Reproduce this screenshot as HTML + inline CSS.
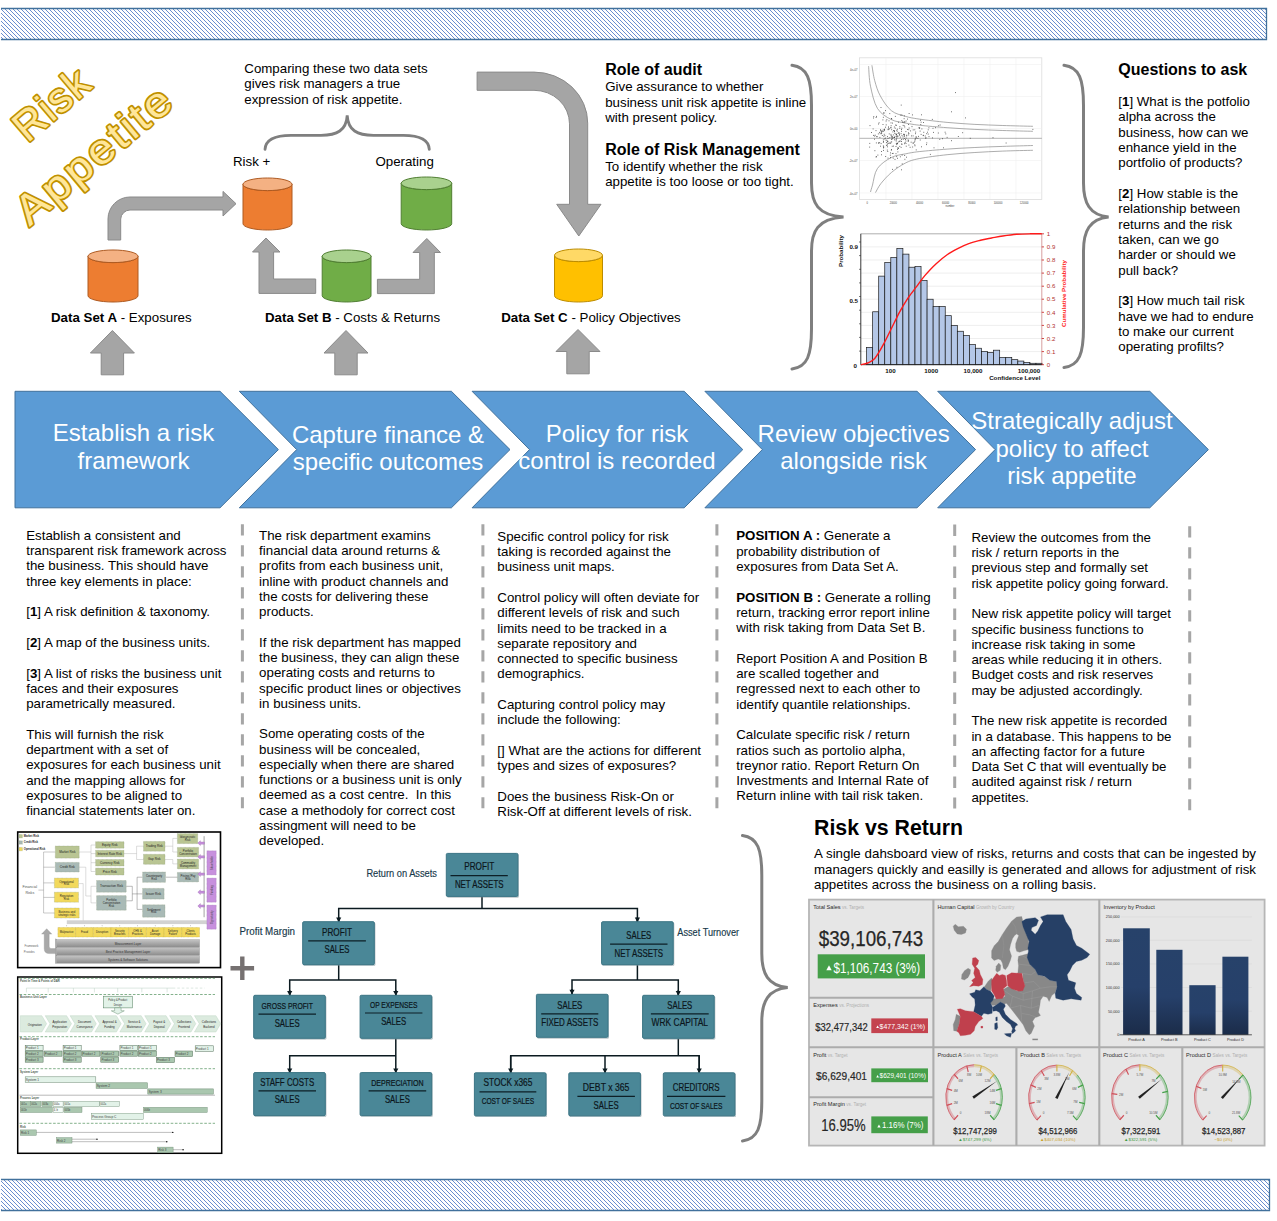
<!DOCTYPE html>
<html lang="en"><head><meta charset="utf-8"><title>Risk Appetite</title>
<style>
html,body{margin:0;padding:0;background:#fff}
body{width:1277px;height:1221px;position:relative;overflow:hidden;font-family:"Liberation Sans",sans-serif;font-size:13.3px;line-height:15.3px;color:#000}
.t{position:absolute;white-space:nowrap}
.c{position:absolute;white-space:nowrap;text-align:center;color:#fff}
svg{position:absolute;left:0;top:0}
svg text{font-family:"Liberation Sans",sans-serif}
b{font-weight:bold}
</style></head><body>
<svg width="1277" height="1221" viewBox="0 0 1277 1221">
<defs>
<pattern id="hatch" width="4" height="4" patternUnits="userSpaceOnUse"><path d="M0 0h1v1h-1zM1 1h1v1h-1zM2 2h1v1h-1zM3 3h1v1h-1z" fill="#4472c4" shape-rendering="crispEdges"/></pattern>
</defs>
<rect x="1" y="8.5" width="1265.5" height="31" fill="url(#hatch)" opacity="0.8"/>
<path d="M1 8.5H1266.5V39.5H1" fill="none" stroke="#41719c" stroke-width="1.3"/>
<rect x="1" y="1179.5" width="1268.5" height="31" fill="url(#hatch)" opacity="0.8"/>
<path d="M1 1179.5H1269.5V1210.5H1" fill="none" stroke="#41719c" stroke-width="1.3"/>
<g font-family="Liberation Sans, sans-serif" font-size="42" stroke-linejoin="round" stroke-linecap="round">
<g transform="translate(27.5,143.5) rotate(-40.5) scale(1.0,1)" letter-spacing="1.6"><text x="0" y="0" fill="#ffe699" stroke="#bf9000" stroke-width="3.4" paint-order="stroke">Risk</text></g>
<g transform="translate(29.5,227) rotate(-39.8) scale(1.1,1)" letter-spacing="2.6"><text x="0" y="0" fill="#ffe699" stroke="#bf9000" stroke-width="3.4" paint-order="stroke">Appetite</text></g>
</g>
<path d="M88 256.3V295.7A25.0 6.3 0 0 0 138 295.7V256.3A25.0 6.3 0 0 1 88 256.3Z" fill="#ed7d31" stroke="#ae5a21" stroke-width="1"/><ellipse cx="113.0" cy="256.3" rx="25.0" ry="6.3" fill="#f4b183" stroke="#ae5a21" stroke-width="1"/>
<path d="M243 184.3V223.7A24.5 6.3 0 0 0 292 223.7V184.3A24.5 6.3 0 0 1 243 184.3Z" fill="#ed7d31" stroke="#ae5a21" stroke-width="1"/><ellipse cx="267.5" cy="184.3" rx="24.5" ry="6.3" fill="#f4b183" stroke="#ae5a21" stroke-width="1"/>
<path d="M322.2 256.3V295.7A24.400000000000006 6.3 0 0 0 371 295.7V256.3A24.400000000000006 6.3 0 0 1 322.2 256.3Z" fill="#70ad47" stroke="#507e32" stroke-width="1"/><ellipse cx="346.6" cy="256.3" rx="24.400000000000006" ry="6.3" fill="#a9d18e" stroke="#507e32" stroke-width="1"/>
<path d="M401.2 183.3V223.7A25.25 6.3 0 0 0 451.7 223.7V183.3A25.25 6.3 0 0 1 401.2 183.3Z" fill="#70ad47" stroke="#507e32" stroke-width="1"/><ellipse cx="426.45" cy="183.3" rx="25.25" ry="6.3" fill="#a9d18e" stroke="#507e32" stroke-width="1"/>
<path d="M554.5 255.3V295.7A24.0 6.3 0 0 0 602.5 295.7V255.3A24.0 6.3 0 0 1 554.5 255.3Z" fill="#ffc000" stroke="#bc8c00" stroke-width="1"/><ellipse cx="578.5" cy="255.3" rx="24.0" ry="6.3" fill="#ffd966" stroke="#bc8c00" stroke-width="1"/>
<path d="M112.4 330.5L134.4 353H123.60000000000001V374.8H101.2V353H90.4Z" fill="#a5a5a5" stroke="#8a8a8a" stroke-width="1"/>
<path d="M346 330.5L368 353H357.2V374.8H334.8V353H324Z" fill="#a5a5a5" stroke="#8a8a8a" stroke-width="1"/>
<path d="M578 329.5L600 351.5H589.2V373.8H566.8V351.5H556Z" fill="#a5a5a5" stroke="#8a8a8a" stroke-width="1"/>
<path d="M108 240V219A22 22 0 0 1 130 197H223V191.4L236 203.7L223 216V210H130A9.5 9.5 0 0 0 120.7 219V240Z" fill="#a5a5a5" stroke="#8a8a8a" stroke-width="1"/>
<path d="M315.7 293.4H259V252H252.5L266 238L280 252H273.6V279H315.7Z" fill="#a5a5a5" stroke="#8a8a8a" stroke-width="1"/>
<path d="M377.4 293.6H434.3V252.5H440.5L426.8 238.5L413 252.5H419.7V279.3H377.4Z" fill="#a5a5a5" stroke="#8a8a8a" stroke-width="1"/>
<path d="M477.1 72.1H534A53.7 51 0 0 1 587.7 123.1V204.3H601L578.8 236L556.7 204.3H569.5V123.8A35.5 33.5 0 0 0 534 90.3H477.1Z" fill="#a5a5a5" stroke="#8a8a8a" stroke-width="1"/>
<path d="M265 149.3C265.5 140 273 135.3 291 135.3H321C337 135.3 346.3 130.5 347.2 115.3C348.1 130.5 357.4 135.3 373.4 135.3H403.4C421.4 135.3 428.8 140 429.3 149.3" fill="none" stroke="#7f7f7f" stroke-width="2.8" stroke-linecap="round"/>
<path d="M15 391.3H220L278.4 449.6L220 507.8H15Z" fill="#5b9bd5" stroke="#41719c" stroke-width="1"/>
<path d="M239.3 391.3H451.4L510.0 449.6L451.4 507.8H239.3L296.7 449.6Z" fill="#5b9bd5" stroke="#41719c" stroke-width="1"/>
<path d="M472.1 391.3H684.2L742.8 449.6L684.2 507.8H472.1L529.5 449.6Z" fill="#5b9bd5" stroke="#41719c" stroke-width="1"/>
<path d="M704.9 391.3H917.0L975.6 449.6L917.0 507.8H704.9L762.3 449.6Z" fill="#5b9bd5" stroke="#41719c" stroke-width="1"/>
<path d="M937.7 391.3H1149.8L1208.4 449.6L1149.8 507.8H937.7L995.1 449.6Z" fill="#5b9bd5" stroke="#41719c" stroke-width="1"/>
<path d="M792 65.3C807.5 67.3 811.5 79.3 811.5 105.3V183.1C811.5 203.1 817.5 215.1 843.5 217.1C817.5 219.1 811.5 231.1 811.5 251.1V329C811.5 355 807.5 367 792 369" fill="none" stroke="#7f7f7f" stroke-width="3.0" stroke-linecap="round"/>
<path d="M1064 65.3C1079.5 67.3 1083.5 79.3 1083.5 105.3V183C1083.5 203 1089.5 215 1108.6 217C1089.5 219 1083.5 231 1083.5 251V327.5C1083.5 353.5 1079.5 365.5 1064 367.5" fill="none" stroke="#7f7f7f" stroke-width="3.0" stroke-linecap="round"/>
<path d="M742.5 835.5C757.8 837.5 761.8 849.5 761.8 875.5V953.6C761.8 973.6 767.8 985.6 787.7 987.6C767.8 989.6 761.8 1001.6 761.8 1021.6V1101C761.8 1127 757.8 1139 742.5 1141" fill="none" stroke="#7f7f7f" stroke-width="3.0" stroke-linecap="round"/>
<line x1="242.4" y1="524.2" x2="242.4" y2="808.2" stroke="#a6a6a6" stroke-width="3" stroke-dasharray="11.3 9.7"/>
<line x1="482.9" y1="524.2" x2="482.9" y2="808.2" stroke="#a6a6a6" stroke-width="3" stroke-dasharray="11.3 9.7"/>
<line x1="716.9" y1="524.2" x2="716.9" y2="808.2" stroke="#a6a6a6" stroke-width="3" stroke-dasharray="11.3 9.7"/>
<line x1="954.7" y1="524.6" x2="954.7" y2="808.6" stroke="#a6a6a6" stroke-width="3" stroke-dasharray="11.3 9.7"/>
<line x1="1189.7" y1="526.2" x2="1189.7" y2="810.2" stroke="#a6a6a6" stroke-width="3" stroke-dasharray="11.3 9.7"/>
<g id="scatter"><rect x="859.5" y="57.8" width="182.3" height="141.7" fill="#fff" stroke="#dcdcdc" stroke-width="0.8"/>
<line x1="886" y1="58" x2="886" y2="199" stroke="#f0f0f0" stroke-width="0.6"/>
<line x1="912" y1="58" x2="912" y2="199" stroke="#f0f0f0" stroke-width="0.6"/>
<line x1="938" y1="58" x2="938" y2="199" stroke="#f0f0f0" stroke-width="0.6"/>
<line x1="964" y1="58" x2="964" y2="199" stroke="#f0f0f0" stroke-width="0.6"/>
<line x1="990" y1="58" x2="990" y2="199" stroke="#f0f0f0" stroke-width="0.6"/>
<line x1="1016" y1="58" x2="1016" y2="199" stroke="#f0f0f0" stroke-width="0.6"/>
<line x1="860" y1="64.5" x2="1041.5" y2="64.5" stroke="#f0f0f0" stroke-width="0.6"/>
<line x1="860" y1="96.5" x2="1041.5" y2="96.5" stroke="#f0f0f0" stroke-width="0.6"/>
<line x1="860" y1="128.5" x2="1041.5" y2="128.5" stroke="#f0f0f0" stroke-width="0.6"/>
<line x1="860" y1="160.5" x2="1041.5" y2="160.5" stroke="#f0f0f0" stroke-width="0.6"/>
<line x1="860" y1="193" x2="1041.5" y2="193" stroke="#f0f0f0" stroke-width="0.6"/>
<line x1="859.5" y1="138.3" x2="1041.8" y2="138.3" stroke="#666" stroke-width="0.5"/>
<path d="M871.9 65.3C872.4 67.9 873.3 75.5 874.7 80.6C876.1 85.7 877.5 90.9 880.3 95.9C883.0 101.0 887.2 107.3 891.4 110.7C895.6 114.1 900.7 114.9 905.3 116.3C910.0 117.7 912.3 118.0 919.2 119.1C926.2 120.1 937.8 121.5 947.1 122.4C956.4 123.3 965.6 123.8 974.9 124.4C984.2 124.9 993.1 125.1 1002.8 125.5C1012.4 125.8 1027.8 126.2 1032.9 126.3" fill="none" stroke="#8a8a8a" stroke-width="0.7"/>
<path d="M868.6 66.2C868.9 69.5 869.0 79.1 870.5 86.2C872.0 93.3 874.0 102.9 877.5 108.5C880.9 114.0 886.7 117.2 891.4 119.6C896.0 122.0 900.7 122.0 905.3 123.0C910.0 123.9 912.3 124.4 919.2 125.2C926.2 126.0 937.8 127.0 947.1 127.7C956.4 128.4 965.6 128.9 974.9 129.4C984.2 129.8 993.1 130.2 1002.8 130.5C1012.4 130.8 1027.8 131.2 1032.9 131.3" fill="none" stroke="#8a8a8a" stroke-width="0.7"/>
<path d="M1032.9 145.5C1027.8 145.7 1012.4 146.0 1002.8 146.4C993.1 146.7 984.2 147.0 974.9 147.5C965.6 147.9 956.4 148.4 947.1 149.1C937.8 149.8 926.2 150.9 919.2 151.6C912.3 152.4 910.0 152.9 905.3 153.9C900.7 154.8 896.0 155.1 891.4 157.5C886.7 159.9 880.6 163.8 877.5 168.4C874.3 172.9 873.6 181.1 872.5 185.1C871.3 189.0 870.8 190.9 870.5 192.0" fill="none" stroke="#8a8a8a" stroke-width="0.7"/>
<path d="M1032.9 150.3C1027.8 150.4 1012.4 150.7 1002.8 151.1C993.1 151.5 984.2 151.9 974.9 152.5C965.6 153.1 956.4 153.7 947.1 154.7C937.8 155.7 926.2 157.2 919.2 158.6C912.3 160.0 910.0 160.7 905.3 163.1C900.7 165.4 895.5 169.1 891.4 172.5C887.3 176.0 883.5 180.3 880.8 183.7C878.2 187.0 876.4 191.1 875.5 192.6" fill="none" stroke="#8a8a8a" stroke-width="0.7"/>
<path d="M888.4 143.3h.01M904.4 143.7h.01M904.1 134.8h.01M901.7 144.0h.01M897.3 143.1h.01M905.9 131.6h.01M895.0 136.3h.01M898.0 147.9h.01M897.9 151.9h.01M923.2 135.6h.01M886.2 124.9h.01M880.4 129.8h.01M889.6 128.9h.01M904.8 122.6h.01M897.2 136.1h.01M891.7 129.7h.01M908.2 141.4h.01M870.0 125.6h.01M886.1 121.0h.01M869.8 143.4h.01M902.4 122.0h.01M913.1 135.9h.01M899.4 134.8h.01M894.4 139.8h.01M897.5 143.7h.01M894.7 133.2h.01M897.6 129.2h.01M876.1 157.1h.01M913.2 143.1h.01M894.5 137.5h.01M875.2 135.2h.01M915.0 145.8h.01M906.1 121.0h.01M887.0 140.4h.01M920.2 140.0h.01M925.8 138.3h.01M914.9 141.0h.01M896.7 144.6h.01M887.5 141.7h.01M904.5 136.3h.01M896.0 139.9h.01M958.3 136.5h.01M884.9 135.6h.01M905.5 139.5h.01M903.2 122.2h.01M886.7 142.5h.01M871.5 132.5h.01M895.0 159.4h.01M904.1 118.7h.01M890.9 127.9h.01M908.1 139.9h.01M881.0 107.5h.01M923.5 122.5h.01M915.2 138.9h.01M873.5 118.0h.01M874.5 139.2h.01M906.2 146.2h.01M895.3 116.4h.01M900.3 156.8h.01M901.2 105.1h.01M940.1 125.0h.01M904.7 155.5h.01M885.4 127.2h.01M892.7 138.4h.01M883.0 124.5h.01M869.7 147.1h.01M893.5 146.1h.01M892.3 153.5h.01M886.0 140.1h.01M883.5 147.9h.01M901.5 129.5h.01M877.0 136.7h.01M945.8 133.9h.01M897.6 149.4h.01M881.6 133.0h.01M897.2 131.2h.01M888.0 158.1h.01M873.1 128.9h.01M876.3 142.9h.01M873.5 135.4h.01M878.3 133.9h.01M883.9 112.5h.01M890.5 152.9h.01M903.8 134.7h.01M891.7 141.8h.01M904.8 121.5h.01M906.5 157.2h.01M896.9 167.3h.01M898.0 148.2h.01M887.3 143.9h.01M891.0 134.4h.01M889.3 137.8h.01M945.1 132.2h.01M896.8 135.8h.01M911.1 142.2h.01M899.8 146.4h.01M933.0 128.3h.01M903.1 125.4h.01M916.2 149.9h.01M892.9 131.9h.01M912.7 147.0h.01M883.5 150.4h.01M890.7 143.4h.01M923.3 135.3h.01M887.6 146.8h.01M908.7 134.9h.01M891.4 139.1h.01M884.2 134.3h.01M896.5 134.5h.01M878.9 142.9h.01M880.5 146.2h.01M902.0 135.6h.01M886.9 119.7h.01M939.8 139.4h.01M932.3 119.4h.01M905.1 142.5h.01M898.4 148.3h.01M921.9 128.9h.01M892.4 169.4h.01M891.1 137.3h.01M908.9 133.5h.01M890.9 142.3h.01M893.8 137.6h.01M893.1 153.4h.01M891.4 118.5h.01M899.8 128.3h.01M898.0 136.2h.01M889.2 133.9h.01M904.2 125.8h.01M893.8 130.5h.01M898.5 122.2h.01M921.1 134.4h.01M887.9 141.4h.01M876.0 130.6h.01M920.4 120.3h.01M876.9 136.6h.01M908.9 145.1h.01M899.6 141.3h.01M896.7 156.6h.01M879.9 137.4h.01M883.3 117.3h.01M910.1 147.3h.01M925.2 136.0h.01M882.9 119.9h.01M887.8 151.5h.01M885.6 138.2h.01M901.5 169.8h.01M904.3 138.4h.01M903.9 134.2h.01M901.5 131.3h.01M920.8 124.5h.01M928.9 127.8h.01M892.4 137.0h.01M901.4 139.6h.01M891.8 136.3h.01M894.5 131.5h.01M885.6 110.6h.01M883.3 145.9h.01M882.0 130.6h.01M919.0 127.6h.01M899.5 133.1h.01M883.8 136.3h.01M914.8 129.8h.01M873.8 116.6h.01M908.5 124.5h.01M891.7 118.9h.01M893.3 134.9h.01M885.7 156.5h.01M890.3 155.2h.01M917.9 138.4h.01M965.4 117.9h.01M925.9 137.7h.01M898.7 141.9h.01M881.1 143.6h.01M902.1 155.1h.01M901.1 147.4h.01M896.7 130.2h.01M891.5 149.5h.01M913.2 129.9h.01M894.4 137.3h.01M901.9 128.2h.01M903.0 136.9h.01M901.9 115.0h.01M881.7 131.8h.01M908.8 129.7h.01M892.6 123.1h.01M935.5 127.7h.01M889.4 143.1h.01M932.4 137.9h.01M908.6 132.8h.01M887.3 150.1h.01M876.5 116.4h.01M892.2 146.3h.01M881.7 133.7h.01M883.5 141.5h.01M900.2 141.0h.01M888.2 129.3h.01M927.4 132.2h.01M912.0 126.6h.01M914.3 142.1h.01M900.3 137.1h.01M929.0 136.6h.01M910.8 121.4h.01M918.5 136.4h.01M902.2 163.9h.01M908.3 140.6h.01M926.7 133.7h.01M923.8 132.3h.01M877.9 155.1h.01M888.0 138.5h.01M883.5 147.0h.01M903.2 139.3h.01M951.4 140.7h.01M890.5 157.6h.01M886.4 145.4h.01M884.6 130.3h.01M912.4 114.9h.01M913.1 143.0h.01M919.3 128.5h.01M891.3 150.2h.01M898.1 133.4h.01M889.8 113.6h.01M883.2 129.9h.01M921.5 146.8h.01M894.5 131.1h.01M915.5 133.7h.01M880.2 133.7h.01M883.3 139.9h.01M878.6 124.0h.01M919.7 127.7h.01M881.1 131.9h.01M934.0 147.8h.01M882.2 131.6h.01M921.1 122.2h.01M896.8 136.6h.01M900.8 115.1h.01M930.3 154.4h.01M899.9 126.7h.01M888.6 126.9h.01M915.1 139.7h.01M928.2 134.1h.01M888.1 129.7h.01M897.4 158.3h.01M896.4 139.1h.01M926.4 144.6h.01M883.3 142.4h.01M901.1 133.7h.01M883.8 147.1h.01M909.1 128.0h.01M916.6 137.9h.01M896.5 125.3h.01M884.4 129.7h.01M895.7 134.0h.01M906.0 143.5h.01M896.4 134.2h.01M943.5 147.8h.01M928.2 129.8h.01M904.8 127.0h.01M879.7 142.7h.01M891.9 139.5h.01M904.3 115.9h.01M905.9 141.0h.01M890.9 127.4h.01M884.4 129.2h.01M880.7 130.3h.01M894.3 127.0h.01M893.2 158.1h.01M884.3 138.9h.01M896.2 141.0h.01M902.0 144.3h.01M907.4 119.1h.01M887.5 136.6h.01M951.4 111.8h.01M933.4 132.4h.01M921.6 114.8h.01M901.4 141.5h.01M904.9 159.3h.01M894.0 130.5h.01M898.4 132.8h.01M915.7 138.1h.01M907.6 129.5h.01M883.7 131.3h.01M876.3 156.5h.01M938.3 133.0h.01M874.9 150.7h.01M906.7 135.9h.01M910.6 130.9h.01M895.2 128.2h.01M906.8 135.2h.01M926.8 142.9h.01M878.6 143.1h.01M897.1 143.5h.01M892.2 137.0h.01M888.4 128.0h.01M896.0 153.7h.01M916.1 136.6h.01M876.1 117.5h.01M895.5 125.1h.01M881.5 151.5h.01M915.7 132.1h.01M942.5 138.7h.01M906.1 138.1h.01M896.3 143.4h.01M874.7 136.1h.01M896.0 146.5h.01M914.8 144.8h.01M891.1 135.5h.01M891.0 122.9h.01M911.5 135.9h.01M881.4 154.8h.01M901.8 120.6h.01M879.6 132.4h.01M882.3 135.5h.01M899.4 135.0h.01M909.1 113.5h.01M891.1 125.7h.01M887.3 145.0h.01M879.1 122.8h.01M904.4 135.0h.01M883.9 113.5h.01M889.0 120.8h.01M920.1 131.1h.01M896.9 137.9h.01M955.4 92.6h.01M1006.1 143.0h.01M993.0 137.7h.01M970.2 138.3h.01M962.7 132.7h.01M947.1 137.4h.01M938.7 125.7h.01M1032.9 129.4h.01" stroke="#333" stroke-width="1" stroke-linecap="round" fill="none" opacity="0.85"/>
<g font-size="2.6" fill="#444"><text x="857.4" y="70.6" text-anchor="end">4e+07</text><text x="857.4" y="97.9" text-anchor="end">2e+07</text><text x="857.4" y="129.9" text-anchor="end">0e+00</text><text x="857.4" y="161.9" text-anchor="end">-2e+07</text><text x="857.4" y="194.5" text-anchor="end">-4e+07</text><text x="867.2" y="203.7" text-anchor="middle">0</text><text x="893.3" y="203.7" text-anchor="middle">20000</text><text x="919.5" y="203.7" text-anchor="middle">40000</text><text x="945.7" y="203.7" text-anchor="middle">60000</text><text x="971.9" y="203.7" text-anchor="middle">80000</text><text x="998.0" y="203.7" text-anchor="middle">100000</text><text x="1024.2" y="203.7" text-anchor="middle">120000</text><text x="949.9" y="206.5" text-anchor="middle">number</text></g></g>
<g id="hist"><line x1="860.8" y1="351.6" x2="1041.8" y2="351.6" stroke="#e3e3e3" stroke-width="0.6"/>
<line x1="860.8" y1="338.5" x2="1041.8" y2="338.5" stroke="#e3e3e3" stroke-width="0.6"/>
<line x1="860.8" y1="325.4" x2="1041.8" y2="325.4" stroke="#e3e3e3" stroke-width="0.6"/>
<line x1="860.8" y1="312.3" x2="1041.8" y2="312.3" stroke="#e3e3e3" stroke-width="0.6"/>
<line x1="860.8" y1="299.2" x2="1041.8" y2="299.2" stroke="#e3e3e3" stroke-width="0.6"/>
<line x1="860.8" y1="286.2" x2="1041.8" y2="286.2" stroke="#e3e3e3" stroke-width="0.6"/>
<line x1="860.8" y1="273.1" x2="1041.8" y2="273.1" stroke="#e3e3e3" stroke-width="0.6"/>
<line x1="860.8" y1="260.0" x2="1041.8" y2="260.0" stroke="#e3e3e3" stroke-width="0.6"/>
<line x1="860.8" y1="246.9" x2="1041.8" y2="246.9" stroke="#e3e3e3" stroke-width="0.6"/>
<line x1="860.8" y1="233.8" x2="1041.8" y2="233.8" stroke="#9a9a9a" stroke-width="0.8"/>
<rect x="866.61" y="347.41" width="6.05" height="17.29" fill="#b4c7e7" stroke="#1a1a1a" stroke-width="0.7"/>
<rect x="872.65" y="311.77" width="6.05" height="52.93" fill="#b4c7e7" stroke="#1a1a1a" stroke-width="0.7"/>
<rect x="878.70" y="276.12" width="6.05" height="88.58" fill="#b4c7e7" stroke="#1a1a1a" stroke-width="0.7"/>
<rect x="884.75" y="262.48" width="6.05" height="102.22" fill="#b4c7e7" stroke="#1a1a1a" stroke-width="0.7"/>
<rect x="890.80" y="257.46" width="6.05" height="107.24" fill="#b4c7e7" stroke="#1a1a1a" stroke-width="0.7"/>
<rect x="896.85" y="248.55" width="6.05" height="116.15" fill="#b4c7e7" stroke="#1a1a1a" stroke-width="0.7"/>
<rect x="902.90" y="254.12" width="6.05" height="110.58" fill="#b4c7e7" stroke="#1a1a1a" stroke-width="0.7"/>
<rect x="908.94" y="267.21" width="6.05" height="97.49" fill="#b4c7e7" stroke="#1a1a1a" stroke-width="0.7"/>
<rect x="914.99" y="266.65" width="6.05" height="98.05" fill="#b4c7e7" stroke="#1a1a1a" stroke-width="0.7"/>
<rect x="921.04" y="280.58" width="6.05" height="84.12" fill="#b4c7e7" stroke="#1a1a1a" stroke-width="0.7"/>
<rect x="927.09" y="299.23" width="6.05" height="65.47" fill="#b4c7e7" stroke="#1a1a1a" stroke-width="0.7"/>
<rect x="933.14" y="306.47" width="6.05" height="58.23" fill="#b4c7e7" stroke="#1a1a1a" stroke-width="0.7"/>
<rect x="939.19" y="306.47" width="6.05" height="58.23" fill="#b4c7e7" stroke="#1a1a1a" stroke-width="0.7"/>
<rect x="945.24" y="315.66" width="6.05" height="49.04" fill="#b4c7e7" stroke="#1a1a1a" stroke-width="0.7"/>
<rect x="951.28" y="325.41" width="6.05" height="39.29" fill="#b4c7e7" stroke="#1a1a1a" stroke-width="0.7"/>
<rect x="957.33" y="331.26" width="6.05" height="33.44" fill="#b4c7e7" stroke="#1a1a1a" stroke-width="0.7"/>
<rect x="963.38" y="335.44" width="6.05" height="29.26" fill="#b4c7e7" stroke="#1a1a1a" stroke-width="0.7"/>
<rect x="969.43" y="344.63" width="6.05" height="20.07" fill="#b4c7e7" stroke="#1a1a1a" stroke-width="0.7"/>
<rect x="975.48" y="348.25" width="6.05" height="16.45" fill="#b4c7e7" stroke="#1a1a1a" stroke-width="0.7"/>
<rect x="981.53" y="351.59" width="6.05" height="13.11" fill="#b4c7e7" stroke="#1a1a1a" stroke-width="0.7"/>
<rect x="987.57" y="352.42" width="6.05" height="12.28" fill="#b4c7e7" stroke="#1a1a1a" stroke-width="0.7"/>
<rect x="993.62" y="350.19" width="6.05" height="14.51" fill="#b4c7e7" stroke="#1a1a1a" stroke-width="0.7"/>
<rect x="999.67" y="357.44" width="6.05" height="7.26" fill="#b4c7e7" stroke="#1a1a1a" stroke-width="0.7"/>
<rect x="1005.72" y="357.44" width="6.05" height="7.26" fill="#b4c7e7" stroke="#1a1a1a" stroke-width="0.7"/>
<rect x="1011.77" y="359.66" width="6.05" height="5.04" fill="#b4c7e7" stroke="#1a1a1a" stroke-width="0.7"/>
<rect x="1017.82" y="361.06" width="6.05" height="3.64" fill="#b4c7e7" stroke="#1a1a1a" stroke-width="0.7"/>
<rect x="1023.87" y="362.45" width="6.05" height="2.25" fill="#b4c7e7" stroke="#1a1a1a" stroke-width="0.7"/>
<rect x="1029.91" y="363.28" width="6.05" height="1.42" fill="#b4c7e7" stroke="#1a1a1a" stroke-width="0.7"/>
<rect x="1035.96" y="363.28" width="6.05" height="1.42" fill="#b4c7e7" stroke="#1a1a1a" stroke-width="0.7"/>
<path d="M860.8 233.8V364.7H1041.8" fill="none" stroke="#222" stroke-width="0.9"/>
<line x1="1041.8" y1="233.8" x2="1041.8" y2="364.7" stroke="#b04040" stroke-width="0.5"/>
<path d="M860.8 364.7C861.9 364.4 865.4 364.0 867.7 363.0C870.0 362.0 872.1 361.5 874.7 358.5C877.2 355.6 880.3 350.2 883.0 345.2C885.8 340.2 888.6 334.0 891.4 328.5C894.2 322.9 897.0 316.9 899.7 311.8C902.5 306.7 905.3 302.0 908.1 297.8C910.9 293.7 913.7 290.4 916.5 286.7C919.2 283.0 921.6 279.4 924.8 275.6C928.1 271.8 932.2 267.3 935.9 263.9C939.7 260.4 943.4 257.3 947.1 254.7C950.8 252.1 954.5 250.2 958.2 248.3C961.9 246.4 965.6 244.6 969.4 243.3C973.1 241.9 976.8 241.1 980.5 240.2C984.2 239.3 987.9 238.7 991.6 238.0C995.4 237.3 998.6 236.6 1002.8 236.0C1007.0 235.4 1012.1 234.7 1016.7 234.3C1021.3 234.0 1026.4 233.9 1030.6 233.8C1034.8 233.7 1039.9 233.8 1041.8 233.8" fill="none" stroke="#ff1a1a" stroke-width="1.4"/>
<line x1="1041.8" y1="364.7" x2="1044.0" y2="364.7" stroke="#c00000" stroke-width="0.7"/>
<line x1="1041.8" y1="351.6" x2="1044.0" y2="351.6" stroke="#c00000" stroke-width="0.7"/>
<line x1="1041.8" y1="338.5" x2="1044.0" y2="338.5" stroke="#c00000" stroke-width="0.7"/>
<line x1="1041.8" y1="325.4" x2="1044.0" y2="325.4" stroke="#c00000" stroke-width="0.7"/>
<line x1="1041.8" y1="312.3" x2="1044.0" y2="312.3" stroke="#c00000" stroke-width="0.7"/>
<line x1="1041.8" y1="299.2" x2="1044.0" y2="299.2" stroke="#c00000" stroke-width="0.7"/>
<line x1="1041.8" y1="286.2" x2="1044.0" y2="286.2" stroke="#c00000" stroke-width="0.7"/>
<line x1="1041.8" y1="273.1" x2="1044.0" y2="273.1" stroke="#c00000" stroke-width="0.7"/>
<line x1="1041.8" y1="260.0" x2="1044.0" y2="260.0" stroke="#c00000" stroke-width="0.7"/>
<line x1="1041.8" y1="246.9" x2="1044.0" y2="246.9" stroke="#c00000" stroke-width="0.7"/>
<line x1="1041.8" y1="233.8" x2="1044.0" y2="233.8" stroke="#c00000" stroke-width="0.7"/>
<line x1="859.0" y1="351.1" x2="860.8" y2="351.1" stroke="#222" stroke-width="0.6"/>
<line x1="859.0" y1="337.4" x2="860.8" y2="337.4" stroke="#222" stroke-width="0.6"/>
<line x1="859.0" y1="323.8" x2="860.8" y2="323.8" stroke="#222" stroke-width="0.6"/>
<line x1="859.0" y1="310.2" x2="860.8" y2="310.2" stroke="#222" stroke-width="0.6"/>
<line x1="859.0" y1="296.5" x2="860.8" y2="296.5" stroke="#222" stroke-width="0.6"/>
<line x1="859.0" y1="282.9" x2="860.8" y2="282.9" stroke="#222" stroke-width="0.6"/>
<line x1="859.0" y1="269.3" x2="860.8" y2="269.3" stroke="#222" stroke-width="0.6"/>
<line x1="859.0" y1="255.6" x2="860.8" y2="255.6" stroke="#222" stroke-width="0.6"/>
<line x1="859.0" y1="242.0" x2="860.8" y2="242.0" stroke="#222" stroke-width="0.6"/><g font-size="6.1"><text x="1046.8" y="366.9" fill="#b03030">0</text><text x="1046.8" y="353.8" fill="#b03030">0.1</text><text x="1046.8" y="340.7" fill="#b03030">0.2</text><text x="1046.8" y="327.6" fill="#b03030">0.3</text><text x="1046.8" y="314.5" fill="#b03030">0.4</text><text x="1046.8" y="301.4" fill="#b03030">0.5</text><text x="1046.8" y="288.4" fill="#b03030">0.6</text><text x="1046.8" y="275.3" fill="#b03030">0.7</text><text x="1046.8" y="262.2" fill="#b03030">0.8</text><text x="1046.8" y="249.1" fill="#b03030">0.9</text><text x="1046.8" y="236.0" fill="#b03030">1</text></g>
<g font-size="6.2" font-weight="bold" fill="#111"><text x="858" y="248.5" text-anchor="end">0.9</text><text x="858" y="302.8" text-anchor="end">0.5</text><text x="857" y="368" text-anchor="end">0</text><text x="890.5" y="373.2" text-anchor="middle">100</text><text x="931.2" y="373.2" text-anchor="middle">1000</text><text x="973" y="373.2" text-anchor="middle">10,000</text><text x="1029" y="373.2" text-anchor="middle">100,000</text><text x="1040.4" y="380" text-anchor="end">Confidence Level</text><text transform="translate(843,251) rotate(-90)" text-anchor="middle">Probability</text><text transform="translate(1065.5,293.5) rotate(-90)" text-anchor="middle" fill="#ff1a1a">Cumulative Probability</text></g></g>
<g id="thumb1"><rect x="17.7" y="832" width="202.8" height="135.6" fill="#fff" stroke="#000" stroke-width="1.6"/>
<path d="M38.4 890.1L43.6 890.1" fill="none" stroke="#777" stroke-width="0.4"/>
<path d="M43.6 852.0L43.6 913.0" fill="none" stroke="#777" stroke-width="0.4"/>
<path d="M43.6 852.0L54.8 852.0" fill="none" stroke="#777" stroke-width="0.4"/>
<path d="M43.6 867.2L54.8 867.2" fill="none" stroke="#777" stroke-width="0.4"/>
<path d="M43.6 882.9L54.8 882.9" fill="none" stroke="#777" stroke-width="0.4"/>
<path d="M43.6 897.4L54.8 897.4" fill="none" stroke="#777" stroke-width="0.4"/>
<path d="M43.6 913.0L54.8 913.0" fill="none" stroke="#777" stroke-width="0.4"/>
<path d="M79.3 852.0L91.0 852.0" fill="none" stroke="#aaa" stroke-width="0.4"/>
<path d="M91.0 845.0L91.0 871.5" fill="none" stroke="#aaa" stroke-width="0.4"/>
<path d="M91.0 845.0L95.6 845.0" fill="none" stroke="#aaa" stroke-width="0.4"/>
<path d="M91.0 853.6L95.6 853.6" fill="none" stroke="#aaa" stroke-width="0.4"/>
<path d="M91.0 862.7L95.6 862.7" fill="none" stroke="#aaa" stroke-width="0.4"/>
<path d="M91.0 871.5L95.6 871.5" fill="none" stroke="#aaa" stroke-width="0.4"/>
<path d="M124.0 853.6L136.6 853.6" fill="none" stroke="#aaa" stroke-width="0.4"/>
<path d="M136.6 846.2L136.6 859.5L143.5 859.5" fill="none" stroke="#aaa" stroke-width="0.4"/>
<path d="M136.6 846.2L143.5 846.2" fill="none" stroke="#aaa" stroke-width="0.4"/>
<path d="M165.0 846.2L172.8 846.2L172.8 838.4L177.4 838.4" fill="none" stroke="#aaa" stroke-width="0.4"/>
<path d="M172.8 846.2L172.8 852.0L177.4 852.0" fill="none" stroke="#aaa" stroke-width="0.4"/>
<path d="M165.0 859.5L172.8 859.5L172.8 863.9L177.4 863.9" fill="none" stroke="#aaa" stroke-width="0.4"/>
<path d="M79.3 867.2L85.8 867.2L85.8 896.0L91.0 896.0" fill="none" stroke="#aaa" stroke-width="0.4"/>
<path d="M91.0 886.3L91.0 902.9" fill="none" stroke="#aaa" stroke-width="0.4"/>
<path d="M91.0 886.3L96.6 886.3" fill="none" stroke="#aaa" stroke-width="0.4"/>
<path d="M91.0 902.9L96.6 902.9" fill="none" stroke="#aaa" stroke-width="0.4"/>
<path d="M126.3 886.3L132.3 886.3L132.3 900.8L126.3 900.8" fill="none" stroke="#555" stroke-width="0.4"/>
<path d="M132.3 893.9L142.6 893.9" fill="none" stroke="#555" stroke-width="0.4"/>
<path d="M137.1 877.2L137.1 909.4" fill="none" stroke="#555" stroke-width="0.4"/>
<path d="M137.1 877.2L142.6 877.2" fill="none" stroke="#555" stroke-width="0.4"/>
<path d="M137.1 909.4L142.6 909.4" fill="none" stroke="#555" stroke-width="0.4"/>
<path d="M165.6 877.2L177.4 877.2" fill="none" stroke="#555" stroke-width="0.4"/>
<path d="M78.6 883.6L83.2 883.6L83.2 922.3" fill="none" stroke="#aaa" stroke-width="0.4"/>
<path d="M204.1 836.2L204.1 917.2" fill="none" stroke="#444" stroke-width="0.5"/>
<rect x="66.8" y="920.3" width="140.4" height="3.8" fill="#d2d2d2"/>
<rect x="19.0" y="834.5" width="3.4" height="3.4" fill="#b9c593" stroke="#8b9a7a" stroke-width="0.4" stroke-dasharray="0.8 0.5"/>
<rect x="19.0" y="840.8" width="3.4" height="3.4" fill="#a9bab6" stroke="#8b9a7a" stroke-width="0.4" stroke-dasharray="0.8 0.5"/>
<rect x="19.0" y="847.4" width="3.4" height="3.4" fill="#f2d95c" stroke="#8b9a7a" stroke-width="0.4" stroke-dasharray="0.8 0.5"/>
<text x="23.8" y="837.1" font-size="2.7" font-weight="bold" fill="#222">Market Risk</text>
<text x="23.8" y="843.4" font-size="2.7" font-weight="bold" fill="#222">Credit Risk</text>
<text x="23.8" y="850.0" font-size="2.7" font-weight="bold" fill="#222">Operational Risk</text>
<text x="29.8" y="887.9" font-size="3.6" text-anchor="middle" fill="#555">Financial</text>
<text x="29.8" y="894.4" font-size="3.6" text-anchor="middle" fill="#555">Risks</text>
<text x="31.5" y="947.3" font-size="2.8" text-anchor="middle" fill="#666">Framework</text>
<text x="29.3" y="953.3" font-size="2.8" text-anchor="middle" fill="#666">Provides</text>
<rect x="55.3" y="846.0" width="23.9" height="12.1" fill="#b9c593" stroke="#8b9a7a" stroke-width="0.4" stroke-dasharray="0.8 0.5"/><text x="67.3" y="853.1" font-size="3.1" text-anchor="middle" fill="#222">Market Risk</text>
<rect x="55.3" y="862.4" width="23.9" height="9.6" fill="#a9bab6" stroke="#8b9a7a" stroke-width="0.4" stroke-dasharray="0.8 0.5"/><text x="67.3" y="868.3" font-size="3.1" text-anchor="middle" fill="#222">Credit Risk</text>
<rect x="54.4" y="878.1" width="24.1" height="9.8" fill="#f2d95c" stroke="#8b9a7a" stroke-width="0.4" stroke-dasharray="0.8 0.5"/><text x="66.5" y="882.5" font-size="2.8" text-anchor="middle" fill="#222">Operational</text><text x="66.5" y="885.4" font-size="2.8" text-anchor="middle" fill="#222">Risk</text>
<rect x="54.4" y="892.2" width="24.1" height="10.0" fill="#f2d95c" stroke="#8b9a7a" stroke-width="0.4" stroke-dasharray="0.8 0.5"/><text x="66.5" y="896.7" font-size="2.8" text-anchor="middle" fill="#222">Reputation</text><text x="66.5" y="899.6" font-size="2.8" text-anchor="middle" fill="#222">Risk</text>
<rect x="54.4" y="908.0" width="24.8" height="10.0" fill="#f2d95c" stroke="#8b9a7a" stroke-width="0.4" stroke-dasharray="0.8 0.5"/><text x="66.8" y="912.5" font-size="2.8" text-anchor="middle" fill="#222">Business and</text><text x="66.8" y="915.5" font-size="2.8" text-anchor="middle" fill="#222">strategic risks</text>
<rect x="95.6" y="841.7" width="28.4" height="6.5" fill="#b9c593" stroke="#8b9a7a" stroke-width="0.4" stroke-dasharray="0.8 0.5"/><text x="109.8" y="846.1" font-size="3.1" text-anchor="middle" fill="#222">Equity Risk</text>
<rect x="95.6" y="850.3" width="28.4" height="6.5" fill="#b9c593" stroke="#8b9a7a" stroke-width="0.4" stroke-dasharray="0.8 0.5"/><text x="109.8" y="854.7" font-size="3.1" text-anchor="middle" fill="#222">Interest Rate Risk</text>
<rect x="95.6" y="859.5" width="28.4" height="6.5" fill="#b9c593" stroke="#8b9a7a" stroke-width="0.4" stroke-dasharray="0.8 0.5"/><text x="109.8" y="863.8" font-size="3.1" text-anchor="middle" fill="#222">Currency Risk</text>
<rect x="95.6" y="868.1" width="28.4" height="6.9" fill="#b9c593" stroke="#8b9a7a" stroke-width="0.4" stroke-dasharray="0.8 0.5"/><text x="109.8" y="872.6" font-size="3.1" text-anchor="middle" fill="#222">Price Risk</text>
<rect x="96.6" y="880.5" width="29.6" height="11.7" fill="#a9bab6" stroke="#8b9a7a" stroke-width="0.4" stroke-dasharray="0.8 0.5"/><text x="111.5" y="887.4" font-size="3.1" text-anchor="middle" fill="#222">Transaction Risk</text>
<rect x="96.6" y="895.6" width="29.6" height="14.6" fill="#a9bab6" stroke="#8b9a7a" stroke-width="0.4" stroke-dasharray="0.8 0.5"/><text x="111.5" y="901.0" font-size="2.8" text-anchor="middle" fill="#222">Portfolio</text><text x="111.5" y="903.9" font-size="2.8" text-anchor="middle" fill="#222">Concentration</text><text x="111.5" y="906.9" font-size="2.8" text-anchor="middle" fill="#222">Risk</text>
<rect x="143.5" y="841.4" width="21.5" height="9.8" fill="#b9c593" stroke="#8b9a7a" stroke-width="0.4" stroke-dasharray="0.8 0.5"/><text x="154.3" y="847.4" font-size="3.1" text-anchor="middle" fill="#222">Trading Risk</text>
<rect x="143.5" y="854.3" width="21.5" height="10.0" fill="#b9c593" stroke="#8b9a7a" stroke-width="0.4" stroke-dasharray="0.8 0.5"/><text x="154.3" y="860.4" font-size="3.1" text-anchor="middle" fill="#222">Gap Risk</text>
<rect x="142.6" y="872.0" width="22.9" height="10.3" fill="#a9bab6" stroke="#8b9a7a" stroke-width="0.4" stroke-dasharray="0.8 0.5"/><text x="154.1" y="876.7" font-size="2.8" text-anchor="middle" fill="#222">Counterparty</text><text x="154.1" y="879.6" font-size="2.8" text-anchor="middle" fill="#222">Risk</text>
<rect x="142.6" y="888.4" width="21.5" height="10.7" fill="#a9bab6" stroke="#8b9a7a" stroke-width="0.4" stroke-dasharray="0.8 0.5"/><text x="153.4" y="894.8" font-size="3.1" text-anchor="middle" fill="#222">Issuer Risk</text>
<rect x="142.6" y="904.8" width="22.4" height="12.4" fill="#a9bab6" stroke="#8b9a7a" stroke-width="0.4" stroke-dasharray="0.8 0.5"/><text x="153.8" y="910.5" font-size="2.8" text-anchor="middle" fill="#222">Settlement</text><text x="153.8" y="913.4" font-size="2.8" text-anchor="middle" fill="#222">Risk</text>
<rect x="177.4" y="833.6" width="20.3" height="10.0" fill="#b9c593" stroke="#8b9a7a" stroke-width="0.4" stroke-dasharray="0.8 0.5"/><text x="187.6" y="838.1" font-size="2.8" text-anchor="middle" fill="#222">Idiosyncratic</text><text x="187.6" y="841.1" font-size="2.8" text-anchor="middle" fill="#222">Risk</text>
<rect x="177.4" y="847.4" width="21.2" height="9.5" fill="#b9c593" stroke="#8b9a7a" stroke-width="0.4" stroke-dasharray="0.8 0.5"/><text x="188.0" y="851.6" font-size="2.8" text-anchor="middle" fill="#222">Portfolio</text><text x="188.0" y="854.6" font-size="2.8" text-anchor="middle" fill="#222">Concentration</text>
<rect x="177.4" y="859.1" width="21.2" height="9.8" fill="#b9c593" stroke="#8b9a7a" stroke-width="0.4" stroke-dasharray="0.8 0.5"/><text x="188.0" y="863.5" font-size="2.8" text-anchor="middle" fill="#222">Commodity</text><text x="188.0" y="866.5" font-size="2.8" text-anchor="middle" fill="#222">Management</text>
<rect x="177.4" y="872.4" width="21.2" height="9.5" fill="#a9bab6" stroke="#8b9a7a" stroke-width="0.4" stroke-dasharray="0.8 0.5"/><text x="188.0" y="876.6" font-size="2.8" text-anchor="middle" fill="#222">Pricing /Pay</text><text x="188.0" y="879.6" font-size="2.8" text-anchor="middle" fill="#222">Risk</text>
<rect x="206.9" y="850.8" width="9.3" height="24.1" fill="#c790dd" stroke="#9a6ab0" stroke-width="0.4" stroke-dasharray="0.8 0.5"/>
<text transform="translate(212.5,862.9) rotate(-90)" font-size="2.6" text-anchor="middle" fill="#444">Shareholder</text>
<rect x="206.9" y="878.1" width="9.3" height="24.1" fill="#c790dd" stroke="#9a6ab0" stroke-width="0.4" stroke-dasharray="0.8 0.5"/>
<text transform="translate(212.5,890.1) rotate(-90)" font-size="2.6" text-anchor="middle" fill="#444">Funding</text>
<rect x="206.9" y="905.1" width="9.3" height="24.1" fill="#c790dd" stroke="#9a6ab0" stroke-width="0.4" stroke-dasharray="0.8 0.5"/>
<text transform="translate(212.5,917.2) rotate(-90)" font-size="2.6" text-anchor="middle" fill="#444">Opportunity</text>
<path d="M197.8 843.1l2.6 -2.4v1.3h4v2.2h-4v1.3z" fill="#c790dd" stroke="#8a5aa0" stroke-width="0.3"/>
<path d="M197.8 856.9l2.6 -2.4v1.3h4v2.2h-4v1.3z" fill="#c790dd" stroke="#8a5aa0" stroke-width="0.3"/>
<path d="M197.8 874.1l2.6 -2.4v1.3h4v2.2h-4v1.3z" fill="#c790dd" stroke="#8a5aa0" stroke-width="0.3"/>
<path d="M197.8 892.2l2.6 -2.4v1.3h4v2.2h-4v1.3z" fill="#c790dd" stroke="#8a5aa0" stroke-width="0.3"/>
<path d="M197.8 906.0l2.6 -2.4v1.3h4v2.2h-4v1.3z" fill="#c790dd" stroke="#8a5aa0" stroke-width="0.3"/>
<rect x="57.9" y="927.5" width="17.7" height="9.5" fill="#f2d95c" stroke="#b8a030" stroke-width="0.4" stroke-dasharray="0.8 0.5"/><text x="66.7" y="933.2" font-size="2.7" text-anchor="middle" fill="#222">Malpractice</text>
<circle cx="66.7" cy="925.8" r="0.4" fill="#555"/>
<rect x="75.6" y="927.5" width="17.7" height="9.5" fill="#f2d95c" stroke="#b8a030" stroke-width="0.4" stroke-dasharray="0.8 0.5"/><text x="84.4" y="933.2" font-size="2.7" text-anchor="middle" fill="#222">Fraud</text>
<circle cx="84.4" cy="925.8" r="0.4" fill="#555"/>
<rect x="93.3" y="927.5" width="17.7" height="9.5" fill="#f2d95c" stroke="#b8a030" stroke-width="0.4" stroke-dasharray="0.8 0.5"/><text x="102.1" y="933.2" font-size="2.7" text-anchor="middle" fill="#222">Disruption</text>
<circle cx="102.1" cy="925.8" r="0.4" fill="#555"/>
<rect x="111.0" y="927.5" width="17.7" height="9.5" fill="#f2d95c" stroke="#b8a030" stroke-width="0.4" stroke-dasharray="0.8 0.5"/><text x="119.8" y="931.8" font-size="2.7" text-anchor="middle" fill="#222">Security</text><text x="119.8" y="934.6" font-size="2.7" text-anchor="middle" fill="#222">Breaches</text>
<circle cx="119.8" cy="925.8" r="0.4" fill="#555"/>
<rect x="128.7" y="927.5" width="17.7" height="9.5" fill="#f2d95c" stroke="#b8a030" stroke-width="0.4" stroke-dasharray="0.8 0.5"/><text x="137.5" y="931.8" font-size="2.7" text-anchor="middle" fill="#222">OHS &amp;</text><text x="137.5" y="934.6" font-size="2.7" text-anchor="middle" fill="#222">Practices</text>
<circle cx="137.5" cy="925.8" r="0.4" fill="#555"/>
<rect x="146.4" y="927.5" width="17.7" height="9.5" fill="#f2d95c" stroke="#b8a030" stroke-width="0.4" stroke-dasharray="0.8 0.5"/><text x="155.2" y="931.8" font-size="2.7" text-anchor="middle" fill="#222">Asset</text><text x="155.2" y="934.6" font-size="2.7" text-anchor="middle" fill="#222">Damage</text>
<circle cx="155.2" cy="925.8" r="0.4" fill="#555"/>
<rect x="164.1" y="927.5" width="17.7" height="9.5" fill="#f2d95c" stroke="#b8a030" stroke-width="0.4" stroke-dasharray="0.8 0.5"/><text x="172.9" y="931.8" font-size="2.7" text-anchor="middle" fill="#222">Delivery</text><text x="172.9" y="934.6" font-size="2.7" text-anchor="middle" fill="#222">Failure</text>
<circle cx="172.9" cy="925.8" r="0.4" fill="#555"/>
<rect x="181.8" y="927.5" width="17.7" height="9.5" fill="#f2d95c" stroke="#b8a030" stroke-width="0.4" stroke-dasharray="0.8 0.5"/><text x="190.6" y="931.8" font-size="2.7" text-anchor="middle" fill="#222">Clients</text><text x="190.6" y="934.6" font-size="2.7" text-anchor="middle" fill="#222">Products</text>
<circle cx="190.6" cy="925.8" r="0.4" fill="#555"/>
<defs><linearGradient id="lay" x1="0" y1="0" x2="0" y2="1"><stop offset="0" stop-color="#c4c4c4"/><stop offset="1" stop-color="#8c8c8c"/></linearGradient></defs>
<rect x="56.5" y="939.6" width="143.0" height="7.6" fill="url(#lay)" stroke="#777" stroke-width="0.3"/>
<text x="128.0" y="944.6" font-size="3" text-anchor="middle" fill="#333">Measurement Layer</text>
<rect x="56.5" y="947.6" width="143.0" height="7.6" fill="url(#lay)" stroke="#777" stroke-width="0.3"/>
<text x="128.0" y="952.6" font-size="3" text-anchor="middle" fill="#333">Best Practice Management Layer</text>
<rect x="56.5" y="955.6" width="143.0" height="7.6" fill="url(#lay)" stroke="#777" stroke-width="0.3"/>
<text x="128.0" y="960.7" font-size="3" text-anchor="middle" fill="#333">Systems &amp; Software Solutions</text>
<path d="M55.7 938.7L55.7 963.7" fill="none" stroke="#444" stroke-width="0.5"/>
<path d="M55.7 953.6h-6.5q-5 0 -5 -5v-14.5h-2.6l5.1 -5.4l5.1 5.4h-2.6v12.3q0 2.2 2.2 2.2h4.3z" fill="#a8a8a8" stroke="#8a8a8a" stroke-width="0.3"/></g>
<g id="thumb2"><rect x="17.7" y="977" width="204" height="176.3" fill="#fff" stroke="#000" stroke-width="1.5"/>
<path d="M19.5 978.3L215.0 978.3" fill="none" stroke="#4f8f5a" stroke-width="0.7" stroke-dasharray="2.6 1.6"/>
<path d="M19.5 994.5L215.0 994.5" fill="none" stroke="#4f8f5a" stroke-width="0.7" stroke-dasharray="2.6 1.6"/>
<path d="M19.5 1036.7L215.0 1036.7" fill="none" stroke="#4f8f5a" stroke-width="0.7" stroke-dasharray="2.6 1.6"/>
<path d="M19.5 1068.7L215.0 1068.7" fill="none" stroke="#4f8f5a" stroke-width="0.7" stroke-dasharray="2.6 1.6"/>
<path d="M19.5 1123.3L215.0 1123.3" fill="none" stroke="#4f8f5a" stroke-width="0.7" stroke-dasharray="2.6 1.6"/>
<path d="M19.5 1095.2L215.0 1095.2" fill="none" stroke="#8a8a8a" stroke-width="0.6"/>
<text x="20.0" y="982.4" font-size="2.8" font-weight="bold" fill="#4a5a4c">Point In Time &amp; Points of DAR</text>
<text x="20.0" y="997.9" font-size="2.8" font-weight="bold" fill="#4a5a4c">Business Unit Layer</text>
<text x="20.0" y="1040.3" font-size="2.8" font-weight="bold" fill="#4a5a4c">Product Layer</text>
<text x="20.0" y="1072.5" font-size="2.8" font-weight="bold" fill="#4a5a4c">System Layer</text>
<text x="20.0" y="1099.2" font-size="2.8" font-weight="bold" fill="#4a5a4c">Process Layer</text>
<text x="20.0" y="1127.6" font-size="2.8" font-weight="bold" fill="#4a5a4c">Risk</text>
<path d="M26.4 992.4L26.4 988.1L172.8 988.1" fill="none" stroke="#b9cfc0" stroke-width="0.5"/>
<path d="M48.2 988.1L48.2 992.4" fill="none" stroke="#b9cfc0" stroke-width="0.5"/>
<path d="M73.4 988.1L73.4 992.4" fill="none" stroke="#b9cfc0" stroke-width="0.5"/>
<path d="M94.4 988.1L94.4 992.4" fill="none" stroke="#b9cfc0" stroke-width="0.5"/>
<path d="M117.7 988.1L117.7 992.4" fill="none" stroke="#b9cfc0" stroke-width="0.5"/>
<path d="M141.8 988.1L141.8 992.4" fill="none" stroke="#b9cfc0" stroke-width="0.5"/>
<path d="M167.1 988.1L167.1 992.4" fill="none" stroke="#b9cfc0" stroke-width="0.5"/>
<path d="M172.8 988.1L204.7 988.1" fill="none" stroke="#b9cfc0" stroke-width="0.5" stroke-dasharray="2.5 2"/>
<rect x="103.5" y="996.2" width="28.8" height="11.7" fill="#e2f2e8" stroke="#4c7a58" stroke-width="0.5"/>
<text x="117.8" y="1001.0" font-size="2.6" text-anchor="middle" fill="#333">Policy &amp; Product</text>
<text x="117.8" y="1005.7" font-size="2.6" text-anchor="middle" fill="#333">Design</text>
<path d="M114.6 1007.8h6.5v3h3.2l-6.4 3.3l-6.6 -3.3h3.3z" fill="#e2f2e8" stroke="#4c7a58" stroke-width="0.4"/>
<path d="M20.3 1015.7L41.8 1015.7L46.6 1023.7L41.8 1032.0L20.3 1032.0Z" fill="#dcebdf" stroke="#b5d2bd" stroke-width="0.4"/>
<text x="34.8" y="1025.5" font-size="2.9" text-anchor="middle" fill="#222">Origination</text>
<path d="M45.2 1015.7L66.6 1015.7L71.5 1023.7L66.6 1032.0L45.2 1032.0L50.0 1023.7Z" fill="#dcebdf" stroke="#b5d2bd" stroke-width="0.4"/>
<text x="59.7" y="1023.1" font-size="2.9" text-anchor="middle" fill="#222">Application</text>
<text x="59.7" y="1027.9" font-size="2.9" text-anchor="middle" fill="#222">Preparation</text>
<path d="M70.1 1015.7L91.5 1015.7L96.3 1023.7L91.5 1032.0L70.1 1032.0L74.9 1023.7Z" fill="#dcebdf" stroke="#b5d2bd" stroke-width="0.4"/>
<text x="84.6" y="1023.1" font-size="2.9" text-anchor="middle" fill="#222">Document</text>
<text x="84.6" y="1027.9" font-size="2.9" text-anchor="middle" fill="#222">Conveyance</text>
<path d="M94.9 1015.7L116.4 1015.7L121.2 1023.7L116.4 1032.0L94.9 1032.0L99.8 1023.7Z" fill="#dcebdf" stroke="#b5d2bd" stroke-width="0.4"/>
<text x="109.5" y="1023.1" font-size="2.9" text-anchor="middle" fill="#222">Approval &amp;</text>
<text x="109.5" y="1027.9" font-size="2.9" text-anchor="middle" fill="#222">Funding</text>
<path d="M119.8 1015.7L141.2 1015.7L146.1 1023.7L141.2 1032.0L119.8 1032.0L124.6 1023.7Z" fill="#dcebdf" stroke="#b5d2bd" stroke-width="0.4"/>
<text x="134.3" y="1023.1" font-size="2.9" text-anchor="middle" fill="#222">Service &amp;</text>
<text x="134.3" y="1027.9" font-size="2.9" text-anchor="middle" fill="#222">Maitenance</text>
<path d="M144.7 1015.7L166.1 1015.7L170.9 1023.7L166.1 1032.0L144.7 1032.0L149.5 1023.7Z" fill="#dcebdf" stroke="#b5d2bd" stroke-width="0.4"/>
<text x="159.2" y="1023.1" font-size="2.9" text-anchor="middle" fill="#222">Payout &amp;</text>
<text x="159.2" y="1027.9" font-size="2.9" text-anchor="middle" fill="#222">Disposal</text>
<path d="M169.6 1015.7L191.0 1015.7L195.8 1023.7L191.0 1032.0L169.6 1032.0L174.4 1023.7Z" fill="#dcebdf" stroke="#b5d2bd" stroke-width="0.4"/>
<text x="184.1" y="1023.1" font-size="2.9" text-anchor="middle" fill="#222">Collections</text>
<text x="184.1" y="1027.9" font-size="2.9" text-anchor="middle" fill="#222">Frontend</text>
<path d="M194.4 1015.7L215.9 1015.7L220.7 1023.7L215.9 1032.0L194.4 1032.0L199.3 1023.7Z" fill="#dcebdf" stroke="#b5d2bd" stroke-width="0.4"/>
<text x="208.9" y="1023.1" font-size="2.9" text-anchor="middle" fill="#222">Collections</text>
<text x="208.9" y="1027.9" font-size="2.9" text-anchor="middle" fill="#222">Backend</text>
<rect x="25.2" y="1045.3" width="17.9" height="5.2" fill="#e2f2e8" stroke="#55705a" stroke-width="0.5"/><text x="25.8" y="1048.9" font-size="3.0" fill="#444">Product 1</text>
<rect x="63.1" y="1045.3" width="18.1" height="5.2" fill="#e2f2e8" stroke="#55705a" stroke-width="0.5"/><text x="63.7" y="1048.9" font-size="3.0" fill="#444">Product 1</text>
<rect x="119.9" y="1045.3" width="17.6" height="5.2" fill="#e2f2e8" stroke="#55705a" stroke-width="0.5"/><text x="120.5" y="1048.9" font-size="3.0" fill="#444">Product 1</text>
<rect x="138.3" y="1045.3" width="18.1" height="5.2" fill="#e2f2e8" stroke="#55705a" stroke-width="0.5"/><text x="138.9" y="1048.9" font-size="3.0" fill="#444">Product 1</text>
<rect x="195.2" y="1045.8" width="18.1" height="5.5" fill="#e2f2e8" stroke="#55705a" stroke-width="0.5"/><text x="195.8" y="1049.6" font-size="3.0" fill="#444">Product 1</text>
<rect x="25.2" y="1051.0" width="17.9" height="5.2" fill="#aac7af" stroke="#55705a" stroke-width="0.5"/><text x="25.8" y="1054.6" font-size="3.0" fill="#444">Product 2</text>
<rect x="44.1" y="1051.0" width="17.9" height="5.2" fill="#aac7af" stroke="#55705a" stroke-width="0.5"/><text x="44.7" y="1054.6" font-size="3.0" fill="#444">Product 2</text>
<rect x="63.1" y="1051.0" width="18.1" height="5.2" fill="#aac7af" stroke="#55705a" stroke-width="0.5"/><text x="63.7" y="1054.6" font-size="3.0" fill="#444">Product 2</text>
<rect x="82.0" y="1051.0" width="17.9" height="5.2" fill="#aac7af" stroke="#55705a" stroke-width="0.5"/><text x="82.6" y="1054.6" font-size="3.0" fill="#444">Product 2</text>
<rect x="100.8" y="1051.0" width="17.9" height="5.2" fill="#aac7af" stroke="#55705a" stroke-width="0.5"/><text x="101.4" y="1054.6" font-size="3.0" fill="#444">Product 2</text>
<rect x="119.9" y="1051.0" width="17.6" height="5.2" fill="#aac7af" stroke="#55705a" stroke-width="0.5"/><text x="120.5" y="1054.6" font-size="3.0" fill="#444">Product 2</text>
<rect x="138.3" y="1051.0" width="18.1" height="5.2" fill="#aac7af" stroke="#55705a" stroke-width="0.5"/><text x="138.9" y="1054.6" font-size="3.0" fill="#444">Product 2</text>
<rect x="175.0" y="1051.0" width="17.6" height="5.5" fill="#aac7af" stroke="#55705a" stroke-width="0.5"/><text x="175.6" y="1054.8" font-size="3.0" fill="#444">Product 2</text>
<rect x="25.2" y="1057.0" width="17.9" height="5.2" fill="#aac7af" stroke="#55705a" stroke-width="0.5"/><text x="25.8" y="1060.7" font-size="3.0" fill="#444">Product 3</text>
<rect x="63.1" y="1057.0" width="18.1" height="5.2" fill="#aac7af" stroke="#55705a" stroke-width="0.5"/><text x="63.7" y="1060.7" font-size="3.0" fill="#444">Product 3</text>
<rect x="100.8" y="1057.0" width="17.9" height="5.2" fill="#aac7af" stroke="#55705a" stroke-width="0.5"/><text x="101.4" y="1060.7" font-size="3.0" fill="#444">Product 3</text>
<rect x="156.4" y="1057.3" width="18.1" height="5.3" fill="#aac7af" stroke="#55705a" stroke-width="0.5"/><text x="157.0" y="1061.1" font-size="3.0" fill="#444">Product 3</text>
<rect x="25.2" y="1076.8" width="70.6" height="5.5" fill="#e2f2e8" stroke="#6d8a73" stroke-width="0.5"/><text x="25.8" y="1080.7" font-size="3.2" fill="#444">System 1</text>
<rect x="96.1" y="1082.8" width="51.3" height="5.5" fill="#aac7af" stroke="#6d8a73" stroke-width="0.5"/><text x="96.7" y="1086.7" font-size="3.2" fill="#444">System 2</text>
<rect x="147.8" y="1088.9" width="65.5" height="5.2" fill="#aac7af" stroke="#6d8a73" stroke-width="0.5"/><text x="148.4" y="1092.6" font-size="3.2" fill="#444">System 3</text>
<rect x="20.3" y="1101.4" width="10.0" height="5.2" fill="#aac7af" stroke="#6d8a73" stroke-width="0.4"/><text x="20.9" y="1105.0" font-size="2.6" fill="#444">001a</text>
<rect x="30.7" y="1101.4" width="10.3" height="5.2" fill="#aac7af" stroke="#6d8a73" stroke-width="0.4"/><text x="31.3" y="1105.0" font-size="2.6" fill="#444">002a</text>
<rect x="41.9" y="1101.4" width="10.3" height="5.2" fill="#aac7af" stroke="#6d8a73" stroke-width="0.4"/><text x="42.5" y="1105.0" font-size="2.6" fill="#444">003a</text>
<rect x="53.1" y="1101.4" width="10.0" height="5.2" fill="#f4fbf7" stroke="#6d8a73" stroke-width="0.4"/><text x="53.7" y="1105.0" font-size="2.6" fill="#444">004a</text>
<rect x="63.9" y="1101.4" width="35.7" height="5.2" fill="#e2f2e8" stroke="#6d8a73" stroke-width="0.4"/><text x="64.5" y="1105.0" font-size="2.6" fill="#444">001a</text>
<rect x="99.9" y="1101.4" width="19.5" height="5.2" fill="#e2f2e8" stroke="#6d8a73" stroke-width="0.4"/><text x="100.5" y="1105.0" font-size="2.6" fill="#444">002a</text>
<rect x="20.3" y="1107.3" width="31.9" height="5.2" fill="#aac7af" stroke="#6d8a73" stroke-width="0.4"/><text x="20.9" y="1110.8" font-size="2.6" fill="#444">001b</text>
<rect x="53.1" y="1107.3" width="10.0" height="5.2" fill="#f4fbf7" stroke="#6d8a73" stroke-width="0.4"/><text x="53.7" y="1110.8" font-size="2.6" fill="#444">4. b</text>
<rect x="63.9" y="1107.3" width="18.1" height="5.2" fill="#aac7af" stroke="#6d8a73" stroke-width="0.4"/><text x="64.5" y="1110.8" font-size="2.6" fill="#444">005b</text>
<rect x="143.5" y="1107.3" width="63.7" height="5.2" fill="#aac7af" stroke="#6d8a73" stroke-width="0.4"/><text x="144.1" y="1110.8" font-size="2.6" fill="#444">006b</text>
<rect x="91.3" y="1113.3" width="51.9" height="6.2" fill="#e2f2e8" stroke="#6d8a73" stroke-width="0.4"/><text x="91.9" y="1117.6" font-size="3.2" fill="#444">Process Group C</text>
<rect x="20.3" y="1129.9" width="16.0" height="5.5" fill="#aac7af" stroke="#6d8a73" stroke-width="0.4"/><text x="20.9" y="1133.7" font-size="3.0" fill="#444">Risk 1</text>
<path d="M36.4 1132.4L172.8 1132.4" fill="none" stroke="#444" stroke-width="0.35"/>
<rect x="56.5" y="1137.6" width="15.5" height="5.5" fill="#aac7af" stroke="#6d8a73" stroke-width="0.4"/><text x="57.1" y="1141.5" font-size="3.0" fill="#444">Risk 2</text>
<path d="M72.0 1139.2L97.0 1139.2" fill="none" stroke="#444" stroke-width="0.35"/>
<path d="M72.0 1141.7L166.8 1141.7" fill="none" stroke="#444" stroke-width="0.35"/>
<rect x="157.6" y="1147.1" width="15.5" height="5.5" fill="#aac7af" stroke="#6d8a73" stroke-width="0.4"/><text x="158.2" y="1150.9" font-size="3.0" fill="#444">Risk 3</text>
<path d="M173.1 1149.7L183.1 1149.7" fill="none" stroke="#444" stroke-width="0.35"/>
<circle cx="172.8" cy="1132.4" r="0.7" fill="#000"/>
<circle cx="97.0" cy="1139.2" r="0.7" fill="#000"/>
<circle cx="166.8" cy="1141.7" r="0.7" fill="#000"/>
<circle cx="183.1" cy="1149.7" r="0.7" fill="#000"/></g>
<path d="M230.5 966h9.6v-9.6h4.4v9.6h9.6v4.4h-9.6v9.6h-4.4v-9.6h-9.6z" fill="#767171"/>
<g id="tree"><path d="M482.0 896.4L482.0 908.6" fill="none" stroke="#0b1a20" stroke-width="1.5"/>
<path d="M338.7 922.0L338.7 908.6L637.4 908.6L637.4 922.0" fill="none" stroke="#0b1a20" stroke-width="1.5"/>
<path d="M338.7 917.0L338.7 922.0" fill="none" stroke="#0b1a20" stroke-width="1.5"/><path d="M336.1 917.4h5.2l-2.6 4.8z" fill="#0b1a20"/>
<path d="M637.4 917.0L637.4 922.0" fill="none" stroke="#0b1a20" stroke-width="1.5"/><path d="M634.8 917.4h5.2l-2.6 4.8z" fill="#0b1a20"/>
<path d="M338.7 965.0L338.7 980.0" fill="none" stroke="#0b1a20" stroke-width="1.5"/>
<path d="M289.7 995.6L289.7 980.0L395.8 980.0L395.8 995.6" fill="none" stroke="#0b1a20" stroke-width="1.5"/>
<path d="M289.7 990.0L289.7 995.6" fill="none" stroke="#0b1a20" stroke-width="1.5"/><path d="M287.1 991.0h5.2l-2.6 4.8z" fill="#0b1a20"/>
<path d="M395.8 990.0L395.8 995.6" fill="none" stroke="#0b1a20" stroke-width="1.5"/><path d="M393.2 991.0h5.2l-2.6 4.8z" fill="#0b1a20"/>
<path d="M637.4 965.0L637.4 980.0" fill="none" stroke="#0b1a20" stroke-width="1.5"/>
<path d="M572.0 994.6L572.0 980.0L678.3 980.0L678.3 995.6" fill="none" stroke="#0b1a20" stroke-width="1.5"/>
<path d="M572.0 989.0L572.0 994.4" fill="none" stroke="#0b1a20" stroke-width="1.5"/><path d="M569.4 989.8h5.2l-2.6 4.8z" fill="#0b1a20"/>
<path d="M678.3 990.0L678.3 995.6" fill="none" stroke="#0b1a20" stroke-width="1.5"/><path d="M675.7 991.0h5.2l-2.6 4.8z" fill="#0b1a20"/>
<path d="M395.8 1038.6L395.8 1073.0" fill="none" stroke="#0b1a20" stroke-width="1.5"/><path d="M393.2 1068.4h5.2l-2.6 4.8z" fill="#0b1a20"/>
<path d="M395.8 1055.7L289.7 1055.7L289.7 1073.0" fill="none" stroke="#0b1a20" stroke-width="1.5"/><path d="M287.1 1068.4h5.2l-2.6 4.8z" fill="#0b1a20"/>
<path d="M678.3 1038.6L678.3 1055.7" fill="none" stroke="#0b1a20" stroke-width="1.5"/>
<path d="M510.7 1073.0L510.7 1055.7L699.2 1055.7L699.2 1073.0" fill="none" stroke="#0b1a20" stroke-width="1.5"/>
<path d="M510.7 1055.7L510.7 1073.0" fill="none" stroke="#0b1a20" stroke-width="1.5"/><path d="M508.1 1068.4h5.2l-2.6 4.8z" fill="#0b1a20"/>
<path d="M605.0 1055.7L605.0 1073.0" fill="none" stroke="#0b1a20" stroke-width="1.5"/><path d="M602.4 1068.4h5.2l-2.6 4.8z" fill="#0b1a20"/>
<path d="M699.2 1055.7L699.2 1073.0" fill="none" stroke="#0b1a20" stroke-width="1.5"/><path d="M696.6 1068.4h5.2l-2.6 4.8z" fill="#0b1a20"/>
<g fill="#0c161b" stroke="#0c161b" stroke-width="0.2">
<rect x="447.2" y="854.5" width="71.6" height="43" rx="1.2" fill="#9db8c0" opacity="0.6"/><rect x="446.3" y="853.4" width="71.6" height="43" rx="1.2" fill="#4a8797" stroke="#3b7484" stroke-width="1"/><line x1="450.5" y1="875.7" x2="507.8" y2="875.7" stroke="#0d1f26" stroke-width="1.2"/><text x="479.2" y="870.3" font-size="10.3" text-anchor="middle" textLength="30" lengthAdjust="spacingAndGlyphs">PROFIT</text><text x="479.2" y="888.1" font-size="10.3" text-anchor="middle" textLength="48.6" lengthAdjust="spacingAndGlyphs">NET ASSETS</text>
<rect x="303.6" y="922.8" width="71.6" height="43" rx="1.2" fill="#9db8c0" opacity="0.6"/><rect x="302.7" y="921.7" width="71.6" height="43" rx="1.2" fill="#4a8797" stroke="#3b7484" stroke-width="1"/><line x1="308.2" y1="940.9" x2="365.9" y2="940.9" stroke="#0d1f26" stroke-width="1.2"/><text x="337.0" y="935.5" font-size="10.3" text-anchor="middle" textLength="30" lengthAdjust="spacingAndGlyphs">PROFIT</text><text x="337.0" y="953.3" font-size="10.3" text-anchor="middle" textLength="25" lengthAdjust="spacingAndGlyphs">SALES</text>
<rect x="602.5" y="922.8" width="71.6" height="43" rx="1.2" fill="#9db8c0" opacity="0.6"/><rect x="601.6" y="921.7" width="71.6" height="43" rx="1.2" fill="#4a8797" stroke="#3b7484" stroke-width="1"/><line x1="610.1" y1="944.2" x2="667.5" y2="944.2" stroke="#0d1f26" stroke-width="1.2"/><text x="638.8" y="938.8" font-size="10.3" text-anchor="middle" textLength="25" lengthAdjust="spacingAndGlyphs">SALES</text><text x="638.8" y="956.6" font-size="10.3" text-anchor="middle" textLength="48.6" lengthAdjust="spacingAndGlyphs">NET ASSETS</text>
<rect x="254.6" y="996.4" width="71.6" height="43" rx="1.2" fill="#9db8c0" opacity="0.6"/><rect x="253.7" y="995.3" width="71.6" height="43" rx="1.2" fill="#4a8797" stroke="#3b7484" stroke-width="1"/><line x1="258.5" y1="1014.2" x2="316.0" y2="1014.2" stroke="#0d1f26" stroke-width="1.2"/><text x="287.2" y="1008.8" font-size="8.4" text-anchor="middle" textLength="51.5" lengthAdjust="spacingAndGlyphs">GROSS PROFIT</text><text x="287.2" y="1026.6" font-size="10.3" text-anchor="middle" textLength="25" lengthAdjust="spacingAndGlyphs">SALES</text>
<rect x="361.0" y="996.4" width="71.6" height="43" rx="1.2" fill="#9db8c0" opacity="0.6"/><rect x="360.1" y="995.3" width="71.6" height="43" rx="1.2" fill="#4a8797" stroke="#3b7484" stroke-width="1"/><line x1="365.0" y1="1013.0" x2="422.4" y2="1013.0" stroke="#0d1f26" stroke-width="1.2"/><text x="393.7" y="1007.6" font-size="8.4" text-anchor="middle" textLength="47.5" lengthAdjust="spacingAndGlyphs">OP EXPENSES</text><text x="393.7" y="1025.4" font-size="10.3" text-anchor="middle" textLength="25" lengthAdjust="spacingAndGlyphs">SALES</text>
<rect x="537.3" y="995.4" width="71.6" height="43" rx="1.2" fill="#9db8c0" opacity="0.6"/><rect x="536.4" y="994.3" width="71.6" height="43" rx="1.2" fill="#4a8797" stroke="#3b7484" stroke-width="1"/><line x1="541.2" y1="1013.9" x2="598.3" y2="1013.9" stroke="#0d1f26" stroke-width="1.2"/><text x="569.8" y="1008.5" font-size="10.3" text-anchor="middle" textLength="25" lengthAdjust="spacingAndGlyphs">SALES</text><text x="569.8" y="1026.3" font-size="10.3" text-anchor="middle" textLength="57" lengthAdjust="spacingAndGlyphs">FIXED ASSETS</text>
<rect x="643.5" y="996.4" width="71.6" height="43" rx="1.2" fill="#9db8c0" opacity="0.6"/><rect x="642.6" y="995.3" width="71.6" height="43" rx="1.2" fill="#4a8797" stroke="#3b7484" stroke-width="1"/><line x1="650.9" y1="1013.9" x2="708.7" y2="1013.9" stroke="#0d1f26" stroke-width="1.2"/><text x="679.8" y="1008.5" font-size="10.3" text-anchor="middle" textLength="25" lengthAdjust="spacingAndGlyphs">SALES</text><text x="679.8" y="1026.3" font-size="10.3" text-anchor="middle" textLength="56.5" lengthAdjust="spacingAndGlyphs">WRK CAPITAL</text>
<rect x="254.6" y="1073.7" width="71.6" height="43" rx="1.2" fill="#9db8c0" opacity="0.6"/><rect x="253.7" y="1072.6" width="71.6" height="43" rx="1.2" fill="#4a8797" stroke="#3b7484" stroke-width="1"/><line x1="258.5" y1="1090.9" x2="316.0" y2="1090.9" stroke="#0d1f26" stroke-width="1.2"/><text x="287.2" y="1085.5" font-size="10.3" text-anchor="middle" textLength="54" lengthAdjust="spacingAndGlyphs">STAFF COSTS</text><text x="287.2" y="1103.3" font-size="10.3" text-anchor="middle" textLength="25" lengthAdjust="spacingAndGlyphs">SALES</text>
<rect x="361.0" y="1073.7" width="71.6" height="43" rx="1.2" fill="#9db8c0" opacity="0.6"/><rect x="360.1" y="1072.6" width="71.6" height="43" rx="1.2" fill="#4a8797" stroke="#3b7484" stroke-width="1"/><line x1="368.6" y1="1090.9" x2="426.2" y2="1090.9" stroke="#0d1f26" stroke-width="1.2"/><text x="397.4" y="1085.5" font-size="8.4" text-anchor="middle" textLength="52.5" lengthAdjust="spacingAndGlyphs">DEPRECIATION</text><text x="397.4" y="1103.3" font-size="10.3" text-anchor="middle" textLength="25" lengthAdjust="spacingAndGlyphs">SALES</text>
<rect x="475.3" y="1073.9" width="71.6" height="43" rx="1.2" fill="#9db8c0" opacity="0.6"/><rect x="474.4" y="1072.8" width="71.6" height="43" rx="1.2" fill="#4a8797" stroke="#3b7484" stroke-width="1"/><line x1="479.5" y1="1091.8" x2="536.3" y2="1091.8" stroke="#0d1f26" stroke-width="1.2"/><text x="507.9" y="1086.4" font-size="10.3" text-anchor="middle" textLength="49" lengthAdjust="spacingAndGlyphs">STOCK x365</text><text x="507.9" y="1104.2" font-size="8.4" text-anchor="middle" textLength="52.5" lengthAdjust="spacingAndGlyphs">COST OF SALES</text>
<rect x="569.7" y="1073.9" width="71.6" height="43" rx="1.2" fill="#9db8c0" opacity="0.6"/><rect x="568.8" y="1072.8" width="71.6" height="43" rx="1.2" fill="#4a8797" stroke="#3b7484" stroke-width="1"/><line x1="577.4" y1="1096.4" x2="634.9" y2="1096.4" stroke="#0d1f26" stroke-width="1.2"/><text x="606.1" y="1091.0" font-size="10.3" text-anchor="middle" textLength="46.5" lengthAdjust="spacingAndGlyphs">DEBT x 365</text><text x="606.1" y="1108.8" font-size="10.3" text-anchor="middle" textLength="25" lengthAdjust="spacingAndGlyphs">SALES</text>
<rect x="664.2" y="1073.9" width="71.6" height="43" rx="1.2" fill="#9db8c0" opacity="0.6"/><rect x="663.3" y="1072.8" width="71.6" height="43" rx="1.2" fill="#4a8797" stroke="#3b7484" stroke-width="1"/><line x1="667.0" y1="1096.4" x2="725.4" y2="1096.4" stroke="#0d1f26" stroke-width="1.2"/><text x="696.2" y="1091.0" font-size="10.3" text-anchor="middle" textLength="47" lengthAdjust="spacingAndGlyphs">CREDITORS</text><text x="696.2" y="1108.8" font-size="8.4" text-anchor="middle" textLength="52.5" lengthAdjust="spacingAndGlyphs">COST OF SALES</text>
</g>
<g fill="#17394a" stroke="#17394a" stroke-width="0.15" font-size="10.2"><text x="366.4" y="876.5" textLength="70.6" lengthAdjust="spacingAndGlyphs">Return on Assets</text><text x="239.5" y="935.4" textLength="55.5" lengthAdjust="spacingAndGlyphs">Profit Margin</text><text x="677.3" y="935.7" textLength="61.8" lengthAdjust="spacingAndGlyphs">Asset Turnover</text></g></g>
<g id="dash"><rect x="809" y="899.6" width="455.6" height="246" fill="#e6e6e6" stroke="#b6b6b6" stroke-width="1.8"/>
<line x1="933.4" y1="899.6" x2="933.4" y2="1145.6" stroke="#acacac" stroke-width="2.1"/>
<line x1="1099.3" y1="899.6" x2="1099.3" y2="1145.6" stroke="#acacac" stroke-width="2.1"/>
<line x1="1016.4" y1="1047.3" x2="1016.4" y2="1145.6" stroke="#acacac" stroke-width="2.1"/>
<line x1="1182.3" y1="1047.3" x2="1182.3" y2="1145.6" stroke="#acacac" stroke-width="2.1"/>
<line x1="809" y1="997.8" x2="933.4" y2="997.8" stroke="#acacac" stroke-width="2.1"/>
<line x1="809" y1="1047.3" x2="1264.6" y2="1047.3" stroke="#acacac" stroke-width="2.1"/>
<line x1="809" y1="1097.2" x2="933.4" y2="1097.2" stroke="#acacac" stroke-width="2.1"/>
<text x="813.2" y="908.7" font-size="5.6"><tspan fill="#2a2a2a">Total Sales</tspan><tspan fill="#b0b0b0" font-size="4.6" dx="1.4">vs. Targets</tspan></text>
<text x="813.2" y="1007.3" font-size="5.6"><tspan fill="#2a2a2a">Expenses</tspan><tspan fill="#b0b0b0" font-size="4.6" dx="1.4">vs. Projections</tspan></text>
<text x="813.2" y="1056.8" font-size="5.6"><tspan fill="#2a2a2a">Profit</tspan><tspan fill="#b0b0b0" font-size="4.6" dx="1.4">vs. Target</tspan></text>
<text x="813.2" y="1106.3" font-size="5.6"><tspan fill="#2a2a2a">Profit Margin</tspan><tspan fill="#b0b0b0" font-size="4.6" dx="1.4">vs. Target</tspan></text>
<text x="937.5" y="908.7" font-size="5.6"><tspan fill="#2a2a2a">Human Capital</tspan><tspan fill="#b0b0b0" font-size="4.6" dx="1.4">Growth by Country</tspan></text>
<text x="1103.5" y="908.7" font-size="5.6"><tspan fill="#2a2a2a">Inventory by Product</tspan><tspan fill="#b0b0b0" font-size="4.6" dx="1.4"></tspan></text>
<text x="937.5" y="1056.6" font-size="5.6"><tspan fill="#2a2a2a">Product A</tspan><tspan fill="#b0b0b0" font-size="4.6" dx="1.4">Sales vs. Targets</tspan></text>
<text x="1020.3" y="1056.6" font-size="5.6"><tspan fill="#2a2a2a">Product B</tspan><tspan fill="#b0b0b0" font-size="4.6" dx="1.4">Sales vs. Targets</tspan></text>
<text x="1103.1" y="1056.6" font-size="5.6"><tspan fill="#2a2a2a">Product C</tspan><tspan fill="#b0b0b0" font-size="4.6" dx="1.4">Sales vs. Targets</tspan></text>
<text x="1186.1" y="1056.6" font-size="5.6"><tspan fill="#2a2a2a">Product D</tspan><tspan fill="#b0b0b0" font-size="4.6" dx="1.4">Sales vs. Targets</tspan></text>
<text x="818.7" y="946.4" font-size="21.8" fill="#262626" stroke="#262626" stroke-width="0.25" textLength="104.4" lengthAdjust="spacingAndGlyphs">$39,106,743</text>
<rect x="817.7" y="954.3" width="107.3" height="24.1" fill="#459f49"/>
<path d="M826.3 970.2l2.7 -5l2.7 5z" fill="#fff"/><text x="833.6" y="972.6" font-size="14" fill="#fff" textLength="86.5" lengthAdjust="spacingAndGlyphs">$1,106,743 (3%)</text>
<text x="815.3" y="1030.5" font-size="11.6" fill="#262626" stroke="#262626" stroke-width="0.2" textLength="52.4" lengthAdjust="spacingAndGlyphs">$32,477,342</text>
<rect x="871.3" y="1018.4" width="56.7" height="14.7" fill="#c4434f"/>
<path d="M876.2 1028l1.4 -2.6l1.4 2.6z" fill="#fff"/><text x="879.6" y="1028.6" font-size="7.2" fill="#fff" textLength="45.5" lengthAdjust="spacingAndGlyphs">$477,342 (1%)</text>
<text x="816" y="1080" font-size="11.6" fill="#262626" stroke="#262626" stroke-width="0.2" textLength="51" lengthAdjust="spacingAndGlyphs">$6,629,401</text>
<rect x="871.3" y="1068.4" width="56.7" height="13.8" fill="#459f49"/>
<path d="M876.2 1077.6l1.4 -2.6l1.4 2.6z" fill="#fff"/><text x="879.6" y="1078.1" font-size="7.2" fill="#fff" textLength="46.3" lengthAdjust="spacingAndGlyphs">$629,401 (10%)</text>
<text x="821.3" y="1131.3" font-size="16.4" fill="#262626" stroke="#262626" stroke-width="0.2" textLength="44.3" lengthAdjust="spacingAndGlyphs">16.95%</text>
<rect x="871.3" y="1116.4" width="56.5" height="16.8" fill="#459f49"/>
<path d="M877.3 1127.6l1.7 -3.2l1.7 3.2z" fill="#fff"/><text x="882" y="1128.4" font-size="9" fill="#fff" textLength="41.5" lengthAdjust="spacingAndGlyphs">1.16% (7%)</text></g>
<g id="map"><g transform="translate(930,895) scale(0.13312)"><path d="M665 460L740 440L745 480L760 530L790 560L810 600L860 612L900 640L950 650L955 690L940 735L915 755L895 800L880 770L850 760L830 790L825 830L815 880L830 905L810 915L790 920L770 950L785 985L760 1040L745 1050L720 1020L700 975L670 935L640 895L605 850L580 820L565 800L540 790L480 800L465 825L455 810L470 790L480 780L550 770L565 760L550 710L585 690L600 690L650 720L690 720L710 680L700 640L695 590L660 585L665 530L660 490Z" fill="#888888" stroke="#888888" stroke-width="2" stroke-linejoin="round"/>
<path d="M700 590L760 600L800 570" fill="none" stroke="#a6a6a6" stroke-width="2.2"/>
<path d="M710 660L780 650L830 700L900 690L955 690" fill="none" stroke="#a6a6a6" stroke-width="2.2"/>
<path d="M650 720L700 740L770 720L830 700" fill="none" stroke="#a6a6a6" stroke-width="2.2"/>
<path d="M620 760L700 790L800 770L860 760" fill="none" stroke="#a6a6a6" stroke-width="2.2"/>
<path d="M600 850L680 830L760 850L820 830" fill="none" stroke="#a6a6a6" stroke-width="2.2"/>
<path d="M690 890L750 900L800 920" fill="none" stroke="#a6a6a6" stroke-width="2.2"/>
<path d="M700 740L700 790" fill="none" stroke="#a6a6a6" stroke-width="2.2"/>
<path d="M770 720L760 850" fill="none" stroke="#a6a6a6" stroke-width="2.2"/>
<path d="M560 720L620 760L600 850" fill="none" stroke="#a6a6a6" stroke-width="2.2"/>
<path d="M680 830L690 960" fill="none" stroke="#a6a6a6" stroke-width="2.2"/>
<path d="M680 450L740 480" fill="none" stroke="#a6a6a6" stroke-width="2.2"/>
<path d="M670 520L760 530" fill="none" stroke="#a6a6a6" stroke-width="2.2"/>
<path d="M770 1080L810 1080L810 1090L770 1090Z" fill="#888888" stroke="#888888" stroke-width="1" stroke-linejoin="round"/></g><g transform="translate(945,915) scale(0.102386)"><path d="M700 20L750 15L760 60L770 110L790 170L815 230L820 290L810 340L770 350L730 365L700 355L690 320L690 280L705 240L720 200L700 185L680 200L660 230L640 290L630 340L640 370L650 400L640 440L615 500L590 535L570 520L560 470L545 440L520 430L480 445L455 420L455 350L480 300L520 260L560 190L600 130L650 60Z" fill="#888888" stroke="#888888" stroke-width="2.5" stroke-linejoin="round"/>
<path d="M560 190L575 300L560 420M650 60L690 120L700 185" fill="none" stroke="#a0a0a0" stroke-width="2.5"/></g><g transform="translate(930,895) scale(0.13312)"><path d="M880 148L1000 148L1020 200L1060 260L1075 330L1100 380L1140 400L1200 445L1180 470L1140 490L1100 500L1070 530L1050 570L1030 600L1040 640L1095 660L1085 700L1100 740L1140 770L1135 790L1060 780L1000 790L945 775L940 740L955 690L950 650L900 640L860 610L810 600L790 560L750 520L730 470L740 420L735 400L745 350L720 290L700 240L690 200L720 180L790 170L815 190L800 230L765 245L760 265L790 295L810 270L830 230L850 200L830 165Z" fill="#264066" stroke="#264066" stroke-width="2" stroke-linejoin="round"/></g><g transform="translate(945,915) scale(0.102386)"><path d="M80 110L100 90L130 115L180 110L210 140L200 175L160 190L120 185L90 150Z" fill="#888888" stroke="#888888" stroke-width="2.5" stroke-linejoin="round"/>
<path d="M165 580L190 545L225 520L250 535L245 575L225 610L190 635L160 625Z" fill="#888888" stroke="#888888" stroke-width="2.5" stroke-linejoin="round"/>
<path d="M500 500L525 470L545 490L540 540L510 560L495 540Z" fill="#888888" stroke="#888888" stroke-width="2.5" stroke-linejoin="round"/>
<path d="M385 700L420 650L455 615L465 640L455 700L445 745L410 730Z" fill="#888888" stroke="#888888" stroke-width="2.5" stroke-linejoin="round"/>
<path d="M445 860L480 830L540 830L590 800L640 820L640 850L580 870L540 850L500 880L465 885Z" fill="#888888" stroke="#888888" stroke-width="2.5" stroke-linejoin="round"/>
<path d="M110 970L150 990L140 1060L115 1135L85 1130L80 1070L100 1020Z" fill="#888888" stroke="#888888" stroke-width="2.5" stroke-linejoin="round"/>
<path d="M270 420L300 415L330 445L320 480L300 500L335 540L345 580L370 630L365 680L330 695L280 690L240 700L275 660L260 640L295 610L280 570L290 520L265 480Z" fill="#c0404d" stroke="#c0404d" stroke-width="2.5" stroke-linejoin="round"/>
<path d="M455 640L475 610L505 570L530 590L560 580L590 590L600 640L605 690L570 720L585 780L560 815L500 820L480 780L455 740Z" fill="#c0404d" stroke="#c0404d" stroke-width="2.5" stroke-linejoin="round"/>
<path d="M603 592L650 565L750 570L765 640L780 690L760 740L720 745L650 720L612 692Z" fill="#c0404d" stroke="#c0404d" stroke-width="2.5" stroke-linejoin="round"/>
<path d="M240 770L290 755L300 730L340 740L380 700L410 730L445 745L480 790L470 830L445 860L465 900L460 960L420 970L380 960L355 990L280 945L295 880L290 820L265 800Z" fill="#264066" stroke="#264066" stroke-width="2.5" stroke-linejoin="round"/>
<path d="M465 900L500 880L540 850L580 870L590 890L570 920L590 970L640 1020L700 1060L710 1075L690 1085L680 1110L690 1130L660 1160L650 1140L660 1110L640 1070L600 1040L560 1000L530 950L500 935L470 940Z" fill="#264066" stroke="#264066" stroke-width="2.5" stroke-linejoin="round"/>
<path d="M580 1160L650 1155L640 1195L600 1180Z" fill="#264066" stroke="#264066" stroke-width="2.5" stroke-linejoin="round"/>
<path d="M485 1060L510 1050L515 1100L505 1120L485 1115Z" fill="#264066" stroke="#264066" stroke-width="2.5" stroke-linejoin="round"/>
<path d="M495 1000L510 995L512 1030L497 1035Z" fill="#264066" stroke="#264066" stroke-width="2.5" stroke-linejoin="round"/>
<path d="M120 920L150 915L200 935L280 945L355 990L370 1010L330 1040L295 1090L285 1130L250 1165L200 1175L150 1180L135 1150L115 1135L140 1060L150 990Z" fill="#c0404d" stroke="#c0404d" stroke-width="2.5" stroke-linejoin="round"/>
<path d="M350 1085L370 1085L370 1105L350 1105Z" fill="#c0404d" stroke="#c0404d" stroke-width="1" stroke-linejoin="round"/></g></g>
<g id="bars"><defs><linearGradient id="nav" x1="0" y1="0" x2="0" y2="1"><stop offset="0" stop-color="#27426a"/><stop offset="0.55" stop-color="#26406a"/><stop offset="1" stop-color="#1b2c49"/></linearGradient></defs>
<line x1="1121.0" y1="916.9" x2="1251.9" y2="916.9" stroke="#d6d6d6" stroke-width="0.6"/>
<text x="1119.6" y="918.3" font-size="3.8" text-anchor="end" fill="#333">250,000</text>
<line x1="1121.0" y1="940.2" x2="1251.9" y2="940.2" stroke="#d6d6d6" stroke-width="0.6"/>
<text x="1119.6" y="941.6" font-size="3.8" text-anchor="end" fill="#333">200,000</text>
<line x1="1121.0" y1="963.9" x2="1251.9" y2="963.9" stroke="#d6d6d6" stroke-width="0.6"/>
<text x="1119.6" y="965.3" font-size="3.8" text-anchor="end" fill="#333">150,000</text>
<line x1="1121.0" y1="987.5" x2="1251.9" y2="987.5" stroke="#d6d6d6" stroke-width="0.6"/>
<text x="1119.6" y="988.9" font-size="3.8" text-anchor="end" fill="#333">100,000</text>
<line x1="1121.0" y1="1011.2" x2="1251.9" y2="1011.2" stroke="#d6d6d6" stroke-width="0.6"/>
<text x="1119.6" y="1012.6" font-size="3.8" text-anchor="end" fill="#333">50,000</text>
<text x="1119.4" y="1036.2" font-size="3.8" text-anchor="end" fill="#333">0</text>
<rect x="1123.1" y="928.3" width="26.7" height="106.5" fill="url(#nav)"/>
<text x="1136.5" y="1041.1" font-size="3.8" text-anchor="middle" fill="#333">Product A</text>
<rect x="1156.3" y="949.8" width="26.2" height="85.0" fill="url(#nav)"/>
<text x="1169.3" y="1041.1" font-size="3.8" text-anchor="middle" fill="#333">Product B</text>
<rect x="1189.3" y="985.2" width="26.3" height="49.6" fill="url(#nav)"/>
<text x="1202.4" y="1041.1" font-size="3.8" text-anchor="middle" fill="#333">Product C</text>
<rect x="1222.4" y="956.7" width="26.0" height="78.1" fill="url(#nav)"/>
<text x="1235.5" y="1041.1" font-size="3.8" text-anchor="middle" fill="#333">Product D</text>
<line x1="1119.7" y1="1034.8" x2="1251.9" y2="1034.8" stroke="#333" stroke-width="0.8"/></g>
<g id="gauges"><g transform="translate(974.1,1097) scale(1,1.14)"><path d="M-19.23 19.23A27.2 27.2 0 0 1 -0.00 -27.20" fill="none" stroke="#cf4d57" stroke-width="2.4" opacity="0.33"/><path d="M-20.01 20.01A28.3 28.3 0 0 1 -0.00 -28.30" fill="none" stroke="#cf4d57" stroke-width="0.7"/><path d="M-0.00 -27.20A27.2 27.2 0 0 1 19.57 -18.89" fill="none" stroke="#d2b040" stroke-width="2.4" opacity="0.33"/><path d="M-0.00 -28.30A28.3 28.3 0 0 1 20.36 -19.66" fill="none" stroke="#d2b040" stroke-width="0.7"/><path d="M19.57 -18.89A27.2 27.2 0 0 1 19.23 19.23" fill="none" stroke="#43a047" stroke-width="2.4" opacity="0.33"/><path d="M20.36 -19.66A28.3 28.3 0 0 1 20.01 20.01" fill="none" stroke="#43a047" stroke-width="0.7"/><line x1="-20.01" y1="20.01" x2="-16.05" y2="16.05" stroke="#cf4d57" stroke-width="1.1"/><line x1="-27.34" y1="7.32" x2="-21.93" y2="5.88" stroke="#cf4d57" stroke-width="1.1"/><line x1="-27.34" y1="-7.32" x2="-21.93" y2="-5.88" stroke="#cf4d57" stroke-width="1.1"/><line x1="-20.01" y1="-20.01" x2="-16.05" y2="-16.05" stroke="#cf4d57" stroke-width="1.1"/><line x1="-7.32" y1="-27.34" x2="-5.88" y2="-21.93" stroke="#cf4d57" stroke-width="1.1"/><line x1="7.32" y1="-27.34" x2="5.88" y2="-21.93" stroke="#d2b040" stroke-width="1.1"/><line x1="20.01" y1="-20.01" x2="16.05" y2="-16.05" stroke="#d2b040" stroke-width="1.1"/><line x1="27.34" y1="-7.32" x2="21.93" y2="-5.88" stroke="#43a047" stroke-width="1.1"/><line x1="27.34" y1="7.32" x2="21.93" y2="5.88" stroke="#43a047" stroke-width="1.1"/><line x1="20.01" y1="20.01" x2="16.05" y2="16.05" stroke="#43a047" stroke-width="1.1"/></g><text x="960.7" y="1113.9" font-size="3" text-anchor="middle" fill="#555">0</text><text x="955.8" y="1103.8" font-size="3" text-anchor="middle" fill="#555">2M</text><text x="955.8" y="1092.2" font-size="3" text-anchor="middle" fill="#555">4M</text><text x="960.7" y="1082.1" font-size="3" text-anchor="middle" fill="#555">6M</text><text x="969.2" y="1076.3" font-size="3" text-anchor="middle" fill="#555">8M</text><text x="979.0" y="1076.3" font-size="3" text-anchor="middle" fill="#555">10M</text><text x="987.5" y="1082.1" font-size="3" text-anchor="middle" fill="#555">12M</text><text x="992.4" y="1092.2" font-size="3" text-anchor="middle" fill="#555">14M</text><text x="992.4" y="1103.8" font-size="3" text-anchor="middle" fill="#555">16M</text><text x="987.5" y="1113.9" font-size="3" text-anchor="middle" fill="#555">18M</text><path d="M973.89 1098.79L997.04 1080.94L972.34 1096.58Z" fill="#222"/><text x="975.1" y="1134.2" font-size="9.4" text-anchor="middle" fill="#262626" stroke="#262626" stroke-width="0.25" textLength="43.5" lengthAdjust="spacingAndGlyphs">$12,747,299</text><text x="974.9" y="1141.2" font-size="4.4" text-anchor="middle" fill="#3f9a45">▲$747,299 (6%)</text>
<g transform="translate(1056.9,1097.3) scale(1,1.14)"><path d="M-19.23 19.23A27.2 27.2 0 0 1 -0.00 -27.20" fill="none" stroke="#cf4d57" stroke-width="2.4" opacity="0.33"/><path d="M-20.01 20.01A28.3 28.3 0 0 1 -0.00 -28.30" fill="none" stroke="#cf4d57" stroke-width="0.7"/><path d="M-0.00 -27.20A27.2 27.2 0 0 1 19.57 -18.89" fill="none" stroke="#d2b040" stroke-width="2.4" opacity="0.33"/><path d="M-0.00 -28.30A28.3 28.3 0 0 1 20.36 -19.66" fill="none" stroke="#d2b040" stroke-width="0.7"/><path d="M19.57 -18.89A27.2 27.2 0 0 1 19.23 19.23" fill="none" stroke="#43a047" stroke-width="2.4" opacity="0.33"/><path d="M20.36 -19.66A28.3 28.3 0 0 1 20.01 20.01" fill="none" stroke="#43a047" stroke-width="0.7"/><line x1="-20.01" y1="20.01" x2="-16.05" y2="16.05" stroke="#cf4d57" stroke-width="1.1"/><line x1="-27.76" y1="5.52" x2="-22.26" y2="4.43" stroke="#cf4d57" stroke-width="1.1"/><line x1="-26.15" y1="-10.83" x2="-20.97" y2="-8.69" stroke="#cf4d57" stroke-width="1.1"/><line x1="-15.72" y1="-23.53" x2="-12.61" y2="-18.87" stroke="#cf4d57" stroke-width="1.1"/><line x1="-0.00" y1="-28.30" x2="-0.00" y2="-22.70" stroke="#d2b040" stroke-width="1.1"/><line x1="15.72" y1="-23.53" x2="12.61" y2="-18.87" stroke="#d2b040" stroke-width="1.1"/><line x1="26.15" y1="-10.83" x2="20.97" y2="-8.69" stroke="#43a047" stroke-width="1.1"/><line x1="27.76" y1="5.52" x2="22.26" y2="4.43" stroke="#43a047" stroke-width="1.1"/><line x1="20.01" y1="20.01" x2="16.05" y2="16.05" stroke="#43a047" stroke-width="1.1"/></g><text x="1043.5" y="1114.2" font-size="3" text-anchor="middle" fill="#555">0</text><text x="1038.4" y="1102.7" font-size="3" text-anchor="middle" fill="#555">1M</text><text x="1039.4" y="1089.7" font-size="3" text-anchor="middle" fill="#555">2M</text><text x="1046.4" y="1079.6" font-size="3" text-anchor="middle" fill="#555">3M</text><text x="1056.9" y="1075.8" font-size="3" text-anchor="middle" fill="#555">3.8M</text><text x="1067.4" y="1079.6" font-size="3" text-anchor="middle" fill="#555">5M</text><text x="1074.4" y="1089.7" font-size="3" text-anchor="middle" fill="#555">6M</text><text x="1075.4" y="1102.7" font-size="3" text-anchor="middle" fill="#555">7M</text><text x="1070.3" y="1114.2" font-size="3" text-anchor="middle" fill="#555">7.5M</text><path d="M1057.59 1098.97L1069.17 1072.13L1055.16 1097.79Z" fill="#222"/><text x="1057.9" y="1134.2" font-size="9.4" text-anchor="middle" fill="#262626" stroke="#262626" stroke-width="0.25" textLength="39" lengthAdjust="spacingAndGlyphs">$4,512,966</text><text x="1057.7" y="1141.2" font-size="4.4" text-anchor="middle" fill="#c9a227">▲$407,034 (10%)</text>
<g transform="translate(1139.9,1097) scale(1,1.14)"><path d="M-19.23 19.23A27.2 27.2 0 0 1 -0.00 -27.20" fill="none" stroke="#cf4d57" stroke-width="2.4" opacity="0.33"/><path d="M-20.01 20.01A28.3 28.3 0 0 1 -0.00 -28.30" fill="none" stroke="#cf4d57" stroke-width="0.7"/><path d="M-0.00 -27.20A27.2 27.2 0 0 1 19.57 -18.89" fill="none" stroke="#d2b040" stroke-width="2.4" opacity="0.33"/><path d="M-0.00 -28.30A28.3 28.3 0 0 1 20.36 -19.66" fill="none" stroke="#d2b040" stroke-width="0.7"/><path d="M19.57 -18.89A27.2 27.2 0 0 1 19.23 19.23" fill="none" stroke="#43a047" stroke-width="2.4" opacity="0.33"/><path d="M20.36 -19.66A28.3 28.3 0 0 1 20.01 20.01" fill="none" stroke="#43a047" stroke-width="0.7"/><line x1="-20.01" y1="20.01" x2="-16.05" y2="16.05" stroke="#cf4d57" stroke-width="1.1"/><line x1="-28.14" y1="-2.96" x2="-22.58" y2="-2.37" stroke="#cf4d57" stroke-width="1.1"/><line x1="-14.15" y1="-24.51" x2="-11.35" y2="-19.66" stroke="#cf4d57" stroke-width="1.1"/><line x1="-0.00" y1="-28.30" x2="-0.00" y2="-22.70" stroke="#d2b040" stroke-width="1.1"/><line x1="20.36" y1="-19.66" x2="16.33" y2="-15.77" stroke="#43a047" stroke-width="1.1"/><line x1="27.87" y1="-4.91" x2="22.36" y2="-3.94" stroke="#43a047" stroke-width="1.1"/><line x1="20.01" y1="20.01" x2="16.05" y2="16.05" stroke="#43a047" stroke-width="1.1"/></g><text x="1126.5" y="1113.9" font-size="3" text-anchor="middle" fill="#555">0</text><text x="1121.1" y="1095.7" font-size="3" text-anchor="middle" fill="#555">2M</text><text x="1139.9" y="1075.5" font-size="3" text-anchor="middle" fill="#555">5.7M</text><text x="1153.5" y="1082.4" font-size="3" text-anchor="middle" fill="#555">7M</text><text x="1153.3" y="1113.9" font-size="3" text-anchor="middle" fill="#555">10.5M</text><path d="M1139.83 1098.80L1161.51 1079.19L1138.12 1096.72Z" fill="#222"/><text x="1140.9" y="1134.2" font-size="9.4" text-anchor="middle" fill="#262626" stroke="#262626" stroke-width="0.25" textLength="39" lengthAdjust="spacingAndGlyphs">$7,322,591</text><text x="1140.7" y="1141.2" font-size="4.4" text-anchor="middle" fill="#3f9a45">▲$322,591 (5%)</text>
<g transform="translate(1222.7,1097.3) scale(1,1.14)"><path d="M-19.23 19.23A27.2 27.2 0 0 1 -0.00 -27.20" fill="none" stroke="#cf4d57" stroke-width="2.4" opacity="0.33"/><path d="M-20.01 20.01A28.3 28.3 0 0 1 -0.00 -28.30" fill="none" stroke="#cf4d57" stroke-width="0.7"/><path d="M-0.00 -27.20A27.2 27.2 0 0 1 19.57 -18.89" fill="none" stroke="#d2b040" stroke-width="2.4" opacity="0.33"/><path d="M-0.00 -28.30A28.3 28.3 0 0 1 20.36 -19.66" fill="none" stroke="#d2b040" stroke-width="0.7"/><path d="M19.57 -18.89A27.2 27.2 0 0 1 19.23 19.23" fill="none" stroke="#43a047" stroke-width="2.4" opacity="0.33"/><path d="M20.36 -19.66A28.3 28.3 0 0 1 20.01 20.01" fill="none" stroke="#43a047" stroke-width="0.7"/><line x1="-20.01" y1="20.01" x2="-16.05" y2="16.05" stroke="#cf4d57" stroke-width="1.1"/><line x1="-26.59" y1="-9.68" x2="-21.33" y2="-7.76" stroke="#cf4d57" stroke-width="1.1"/><line x1="-0.00" y1="-28.30" x2="-0.00" y2="-22.70" stroke="#d2b040" stroke-width="1.1"/><line x1="20.36" y1="-19.66" x2="16.33" y2="-15.77" stroke="#43a047" stroke-width="1.1"/><line x1="20.01" y1="20.01" x2="16.05" y2="16.05" stroke="#43a047" stroke-width="1.1"/></g><text x="1209.3" y="1114.2" font-size="3" text-anchor="middle" fill="#555">0</text><text x="1204.9" y="1090.6" font-size="3" text-anchor="middle" fill="#555">5M</text><text x="1222.7" y="1075.8" font-size="3" text-anchor="middle" fill="#555">10.9M</text><text x="1236.3" y="1082.7" font-size="3" text-anchor="middle" fill="#555">14.5M</text><text x="1236.1" y="1114.2" font-size="3" text-anchor="middle" fill="#555">21.8M</text><path d="M1222.90 1099.10L1241.44 1076.49L1220.89 1097.29Z" fill="#222"/><text x="1223.7" y="1134.2" font-size="9.4" text-anchor="middle" fill="#262626" stroke="#262626" stroke-width="0.25" textLength="43.5" lengthAdjust="spacingAndGlyphs">$14,523,887</text><text x="1223.5" y="1141.2" font-size="4.4" text-anchor="middle" fill="#c9a227">−$0 (0%)</text></g>
</svg>
<div class="t" style="left:244.3px;top:61.14px;font-size:13.3px;line-height:15.3px;">Comparing these two data sets<br>gives risk managers a true<br>expression of risk appetite.</div>
<div class="t" style="left:233.0px;top:154.04px;font-size:13.3px;line-height:15.3px;">Risk +</div>
<div class="t" style="left:375.4px;top:154.04px;font-size:13.3px;line-height:15.3px;">Operating</div>
<div class="t" style="left:51.0px;top:310.04px;font-size:13.3px;line-height:15.3px;"><b>Data Set A</b> - Exposures</div>
<div class="t" style="left:265.0px;top:310.04px;font-size:13.3px;line-height:15.3px;"><b>Data Set B</b> - Costs &amp; Returns</div>
<div class="t" style="left:501.2px;top:310.04px;font-size:13.3px;line-height:15.3px;"><b>Data Set C</b> - Policy Objectives</div>
<div class="c" style="left:-16.5px;width:300px;top:419.08px;font-size:24px;line-height:27.6px">Establish a risk<br>framework</div>
<div class="c" style="left:238.0px;width:300px;top:420.58px;font-size:24px;line-height:27.6px">Capture finance &amp;<br>specific outcomes</div>
<div class="c" style="left:467.0px;width:300px;top:419.68px;font-size:24px;line-height:27.6px">Policy for risk<br>control is recorded</div>
<div class="c" style="left:703.6px;width:300px;top:419.68px;font-size:24px;line-height:27.6px">Review objectives<br>alongside risk</div>
<div class="c" style="left:922.0px;width:300px;top:407.08px;font-size:24px;line-height:27.6px">Strategically adjust<br>policy to affect<br>risk appetite</div>
<div class="t" style="left:605.2px;top:60.76px;font-size:16px;line-height:18px;font-weight:bold">Role of audit</div>
<div class="t" style="left:605.2px;top:79.19px;font-size:13.3px;line-height:15.4px;">Give assurance to whether<br>business unit risk appetite is inline<br>with present policy.</div>
<div class="t" style="left:605.2px;top:140.66px;font-size:16px;line-height:18px;font-weight:bold">Role of Risk Management</div>
<div class="t" style="left:605.2px;top:159.09px;font-size:13.3px;line-height:15.2px;">To identify whether the risk<br>appetite is too loose or too tight.</div>
<div class="t" style="left:1118.3px;top:61.16px;font-size:16px;line-height:18px;font-weight:bold">Questions to ask</div>
<div class="t" style="left:1118.3px;top:93.82px;font-size:13.3px;line-height:15.34px;">[<b>1</b>] What is the potfolio<br>alpha across the<br>business, how can we<br>enhance yield in the<br>portfolio of products?<br><br>[<b>2</b>] How stable is the<br>relationship between<br>returns and the risk<br>taken, can we go<br>harder or should we<br>pull back?<br><br>[<b>3</b>] How much tail risk<br>have we had to endure<br>to make our current<br>operating profilts?</div>
<div class="t" style="left:26.2px;top:527.85px;font-size:13.3px;line-height:15.29px;">Establish a consistent and<br>transparent risk framework across<br>the business. This should have<br>three key elements in place:<br><br>[<b>1</b>] A risk definition &amp; taxonomy.<br><br>[<b>2</b>] A map of the business units.<br><br>[<b>3</b>] A list of risks the business unit<br>faces and their exposures<br>parametrically measured.<br><br>This will furnish the risk<br>department with a set of<br>exposures for each business unit<br>and the mapping allows for<br>exposures to be aligned to<br>financial statements later on.</div>
<div class="t" style="left:259.1px;top:527.86px;font-size:13.3px;line-height:15.27px;">The risk department examins<br>financial data around returns &amp;<br>profits from each business unit,<br>inline with product channels and<br>the costs for delivering these<br>products.<br><br>If the risk department has mapped<br>the business, they can align these<br>operating costs and returns to<br>specific product lines or objectives<br>in business units.<br><br>Some operating costs of the<br>business will be concealed,<br>especially when there are shared<br>functions or a business unit is only<br>deemed as a cost centre.&nbsp; In this<br>case a methodoly for correct cost<br>assingment will need to be<br>developed.</div>
<div class="t" style="left:497.3px;top:528.64px;font-size:13.3px;line-height:15.31px;">Specific control policy for risk<br>taking is recorded against the<br>business unit maps.<br><br>Control policy will often deviate for<br>different levels of risk and such<br>limits need to be tracked in a<br>separate repository and<br>connected to specific business<br>demographics.<br><br>Capturing control policy may<br>include the following:<br><br>[] What are the actions for different<br>types and sizes of exposures?<br><br>Does the business Risk-On or<br>Risk-Off at different levels of risk.</div>
<div class="t" style="left:736.2px;top:528.44px;font-size:13.3px;line-height:15.3px;"><b>POSITION A :</b> Generate a<br>probability distribution of<br>exposures from Data Set A.<br><br><b>POSITION B :</b> Generate a rolling<br>return, tracking error report inline<br>with risk taking from Data Set B.<br><br>Report Position A and Position B<br>are scalled together and<br>regressed next to each other to<br>identify quantile relationships.<br><br>Calculate specific risk / return<br>ratios such as portolio alpha,<br>treynor ratio. Report Return On<br>Investments and Internal Rate of<br>Return inline with tail risk taken.</div>
<div class="t" style="left:971.4px;top:529.74px;font-size:13.3px;line-height:15.3px;">Review the outcomes from the<br>risk / return reports in the<br>previous step and formally set<br>risk appetite policy going forward.<br><br>New risk appetite policy will target<br>specific business functions to<br>increase risk taking in some<br>areas while reducing it in others.<br>Budget costs and risk reserves<br>may be adjusted accordingly.<br><br>The new risk appetite is recorded<br>in a database. This happens to be<br>an affecting factor for a future<br>Data Set C that will eventually be<br>audited against risk / return<br>appetites.</div>
<div class="t" style="left:814.0px;top:816.02px;font-size:21.3px;line-height:24px;font-weight:bold">Risk vs Return</div>
<div class="t" style="left:814px;top:846.34px;width:442px;white-space:normal;text-align:justify;text-align-last:justify;line-height:15.25px">A single dahsboard view of risks, returns and costs that can be ingested by</div>
<div class="t" style="left:814px;top:861.64px;width:442px;white-space:normal;text-align:justify;text-align-last:justify;line-height:15.25px">managers quickly and easilly is generated and allows for adjustment of risk</div>
<div class="t" style="left:814.0px;top:876.84px;font-size:13.3px;line-height:15.3px;">appetites across the business on a rolling basis.</div>
</body></html>
